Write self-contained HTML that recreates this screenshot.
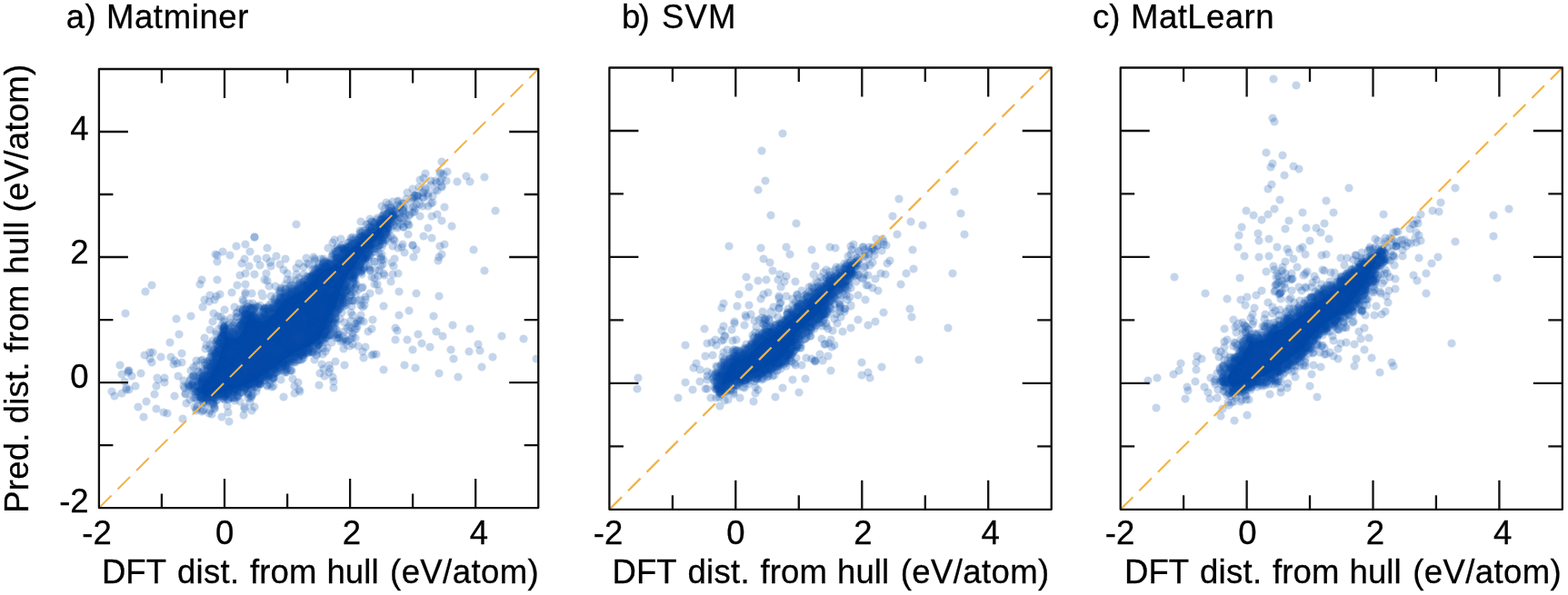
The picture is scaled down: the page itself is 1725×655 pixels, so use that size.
<!DOCTYPE html>
<html><head><meta charset="utf-8"><title>Predicted vs DFT distance from hull</title>
<style>
html,body{margin:0;padding:0;background:#fff;}
body{width:1725px;height:655px;overflow:hidden;}
svg{display:block;}
text{font-family:"Liberation Sans",sans-serif;font-size:36.5px;fill:#000;stroke:#000;stroke-width:.3px;}
.pt path{fill:none;stroke:#094aa8;stroke-opacity:.23;stroke-width:9.2;stroke-linecap:round;}
.so{fill:#094aa8;stroke:#fff;stroke-linejoin:round;}
.fr{fill:none;stroke-linejoin:round;stroke:#111;stroke-width:2.3;}
.tk{stroke:#111;stroke-width:2.3;fill:none;}
.dg{stroke:#f2b345;stroke-dasharray:19.3 9.8;fill:none;}
</style></head><body>
<svg width="1725" height="655" viewBox="0 0 1725 655">
<rect width="1725" height="655" fill="#fff"/>
<filter id="bl" filterUnits="userSpaceOnUse" x="0" y="0" width="1725" height="655"><feGaussianBlur stdDeviation="0.55"/></filter>
<clipPath id="c0"><rect x="108.9" y="76" width="483.35" height="483.1"/></clipPath>
<path class="so" stroke-width="20" d="M210 429L214 418L224 406L230 395L235 379L240 363L244 351L251 356L256 363L260 356L265 340L272 335L281 338L288 344L294 338L301 328L308 321L317 317L327 312L336 303L343 294L354 287L363 283L372 274L382 264L391 258L403 250L414 241L424 232L430 227L435 229L440 236L437 243L433 254L426 266L418 273L411 280L404 290L398 299L391 308L386 319L382 331L377 344L370 356L366 367L359 380L345 390L330 397L317 406L306 415L294 422L283 429L272 434L258 438L246 443L235 445L224 447L214 440Z"/>
<g clip-path="url(#c0)"><g class="pt" filter="url(#bl)">
<path d="M371 277h0M445 240h0M425 246h0M286 423h0M286 292h0M455 217h0M253 376h0M276 436h0M401 263h0M382 361h0M306 405h0M386 276h0M256 365h0M383 303h0M284 351h0M281 348h0M370 283h0M296 412h0M426 235h0M268 364h0M264 388h0M271 428h0M309 350h0M403 270h0M207 423h0M386 317h0M315 322h0M354 297h0M394 331h0M438 221h0M381 273h0M256 399h0M385 295h0M362 343h0M231 379h0M401 336h0M277 350h0M270 269h0M337 318h0M226 421h0M423 248h0M436 231h0M381 336h0M367 335h0M322 382h0M283 350h0M253 430h0M329 396h0M353 339h0M312 400h0M236 330h0M229 400h0M245 382h0M288 417h0M255 426h0M315 410h0M369 329h0M387 294h0M359 363h0M456 215h0M399 297h0M355 301h0M353 350h0M297 342h0M270 365h0M337 315h0M418 267h0M380 316h0M265 368h0M341 310h0M319 408h0M384 364h0M211 427h0M232 434h0M240 436h0M370 282h0M155 411h0M332 383h0M272 423h0M321 379h0M275 362h0M333 363h0M328 322h0M355 383h0M314 400h0M240 388h0M261 414h0M431 244h0M374 320h0M492 189h0M377 274h0M352 367h0M375 291h0M352 299h0M305 335h0M205 444h0M424 251h0M250 375h0M245 433h0M348 377h0M270 353h0M457 405h0M322 384h0M320 329h0M297 358h0M394 299h0M360 363h0M273 421h0M389 294h0M297 408h0M210 408h0M498 358h0M236 406h0M279 358h0M270 322h0M319 399h0M241 405h0M253 369h0M416 262h0M309 392h0M383 272h0M366 415h0M368 369h0M407 256h0M218 420h0M376 310h0M255 425h0M227 444h0M293 351h0M411 257h0M250 418h0M279 422h0M311 331h0M323 381h0M302 329h0M218 431h0M483 411h0M380 330h0M311 398h0M288 415h0M271 349h0M444 250h0M240 390h0M426 248h0M361 298h0M455 228h0M489 228h0M261 426h0M339 365h0M441 240h0M410 269h0M322 386h0M337 314h0M422 301h0M264 373h0M418 246h0M384 302h0M231 417h0M271 426h0M260 370h0M375 320h0M228 403h0M315 318h0M354 401h0M394 271h0M336 388h0M281 346h0M296 352h0M245 436h0M234 442h0M373 293h0M288 394h0M402 285h0M244 391h0M363 328h0M496 385h0M356 296h0M349 305h0M362 298h0M422 237h0M271 341h0M277 430h0M283 386h0M280 417h0M388 270h0M241 385h0M301 345h0M405 263h0M374 321h0"/>
<path d="M244 376h0M363 354h0M293 354h0M326 391h0M280 419h0M344 381h0M576 373h0M265 363h0M458 225h0M409 274h0M351 359h0M264 410h0M322 398h0M246 436h0M386 295h0M294 392h0M269 360h0M390 302h0M222 428h0M303 384h0M234 410h0M374 296h0M418 246h0M388 379h0M246 388h0M384 272h0M326 338h0M430 260h0M278 384h0M316 392h0M325 399h0M252 367h0M409 269h0M350 351h0M316 329h0M321 388h0M255 355h0M270 375h0M284 401h0M344 377h0M425 250h0M291 390h0M324 390h0M486 197h0M259 426h0M286 423h0M313 322h0M474 224h0M296 339h0M266 371h0M319 343h0M314 360h0M294 425h0M397 300h0M275 345h0M380 306h0M377 311h0M354 360h0M222 410h0M373 326h0M203 427h0M377 330h0M269 367h0M269 448h0M382 273h0M279 423h0M321 377h0M406 257h0M330 331h0M275 352h0M403 277h0M225 437h0M454 385h0M277 352h0M450 230h0M322 324h0M242 389h0M260 271h0M271 354h0M238 432h0M266 364h0M317 325h0M356 369h0M286 348h0M432 238h0M231 400h0M294 412h0M351 364h0M363 289h0M425 246h0M270 391h0M309 349h0M333 357h0M251 366h0M356 358h0M221 429h0M282 354h0M426 244h0M220 436h0M213 438h0M352 367h0M269 349h0M244 379h0M222 414h0M443 269h0M242 375h0M339 312h0M359 291h0M451 236h0M245 375h0M249 366h0M393 283h0M252 367h0M245 413h0M223 396h0M216 402h0M336 387h0M396 270h0M338 386h0M320 356h0M358 358h0M307 374h0M221 415h0M352 375h0M251 358h0M317 359h0M317 387h0M266 399h0M409 266h0M368 356h0M284 352h0M363 291h0M308 343h0M244 371h0M228 438h0M416 271h0M311 370h0M335 322h0M293 416h0M240 386h0M231 412h0M397 288h0M260 349h0M341 307h0M246 373h0M403 271h0M346 316h0M263 374h0M356 289h0M271 365h0M396 257h0M462 238h0M396 265h0M251 368h0M486 280h0M268 354h0M408 271h0M257 431h0M401 254h0M260 363h0M278 354h0M364 356h0M273 389h0M282 354h0M288 401h0M302 363h0M388 331h0M299 350h0M412 306h0M388 367h0M286 354h0M264 362h0M327 324h0M312 400h0M159 391h0M220 414h0M273 434h0M264 340h0M242 374h0M294 354h0M382 310h0M280 406h0M378 286h0M241 400h0M249 394h0M485 190h0M361 289h0M273 423h0M412 245h0"/>
<path d="M347 308h0M414 254h0M323 386h0M228 408h0M406 295h0M238 368h0M278 412h0M270 420h0M225 435h0M355 296h0M320 325h0M217 425h0M219 424h0M450 248h0M431 234h0M386 279h0M152 448h0M367 338h0M331 383h0M288 352h0M360 353h0M335 391h0M309 334h0M263 360h0M268 354h0M246 360h0M293 348h0M309 375h0M448 374h0M275 409h0M359 370h0M254 422h0M139 429h0M400 262h0M237 435h0M306 334h0M275 348h0M405 280h0M371 317h0M236 398h0M323 351h0M292 409h0M276 420h0M431 231h0M329 323h0M342 353h0M407 281h0M275 344h0M221 428h0M372 285h0M290 348h0M325 327h0M278 350h0M414 251h0M332 373h0M255 372h0M279 363h0M349 301h0M223 433h0M370 294h0M402 327h0M249 405h0M234 375h0M225 330h0M437 249h0M306 335h0M245 383h0M381 287h0M264 358h0M225 421h0M273 391h0M280 339h0M304 410h0M247 428h0M371 330h0M329 328h0M335 317h0M391 269h0M425 241h0M373 315h0M388 308h0M333 322h0M231 437h0M435 240h0M411 266h0M380 333h0M329 320h0M394 381h0M474 199h0M234 400h0M377 327h0M339 384h0M237 408h0M268 382h0M364 293h0M264 425h0M238 441h0M213 414h0M397 279h0M322 389h0M404 269h0M462 225h0M246 367h0M252 396h0M398 260h0M314 368h0M362 342h0M399 254h0M331 390h0M391 268h0M245 277h0M363 353h0M303 404h0M377 285h0M220 422h0M399 281h0M287 417h0M195 400h0M366 353h0M344 315h0M364 338h0M340 388h0M238 326h0M263 375h0M338 304h0M345 373h0M387 294h0M363 291h0M252 434h0M252 432h0M332 391h0M430 240h0M279 422h0M249 375h0M378 316h0M262 369h0M426 244h0M402 280h0M396 295h0M365 377h0M320 352h0M241 376h0M475 238h0M242 391h0M194 351h0M293 412h0M364 343h0M223 425h0M409 269h0M376 326h0M460 221h0M272 423h0M337 315h0M419 258h0M378 309h0M289 392h0M307 358h0M312 437h0M329 327h0M271 360h0M374 328h0M286 416h0M394 293h0M418 270h0M325 386h0M402 279h0M343 376h0M412 263h0M234 406h0M222 422h0M302 402h0M274 421h0M281 350h0M265 366h0M268 347h0M372 296h0M365 355h0M242 386h0M290 393h0M372 288h0M256 403h0M399 287h0M281 395h0M454 234h0M244 423h0M286 336h0M238 441h0M380 278h0M283 416h0"/>
<path d="M326 320h0M280 448h0M358 350h0M491 199h0M282 350h0M246 435h0M275 341h0M336 314h0M304 345h0M210 348h0M405 286h0M322 321h0M276 343h0M418 249h0M266 361h0M306 398h0M311 383h0M425 248h0M380 279h0M270 387h0M237 435h0M322 323h0M278 417h0M405 264h0M391 288h0M231 396h0M329 387h0M339 379h0M309 328h0M256 430h0M248 376h0M242 386h0M380 276h0M397 256h0M396 291h0M286 422h0M420 280h0M313 398h0M239 374h0M320 400h0M399 268h0M329 429h0M241 403h0M378 365h0M418 265h0M338 344h0M391 317h0M419 249h0M271 416h0M340 305h0M261 344h0M403 277h0M334 380h0M440 228h0M417 250h0M413 259h0M323 391h0M244 424h0M381 326h0M269 359h0M298 351h0M384 331h0M261 379h0M274 424h0M275 339h0M247 352h0M420 249h0M352 332h0M376 301h0M392 268h0M318 330h0M373 325h0M330 322h0M337 314h0M483 283h0M421 264h0M295 346h0M290 396h0M262 423h0M329 360h0M351 318h0M352 299h0M237 404h0M319 391h0M366 324h0M219 434h0M391 301h0M244 385h0M289 348h0M371 276h0M390 268h0M243 397h0M349 370h0M232 392h0M373 275h0M327 397h0M260 398h0M412 265h0M258 362h0M326 302h0M227 413h0M270 301h0M341 354h0M400 264h0M233 392h0M305 368h0M329 380h0M393 296h0M220 426h0M329 318h0M372 317h0M240 403h0M293 349h0M257 438h0M367 279h0M298 326h0M391 308h0M236 416h0M386 291h0M342 325h0M377 307h0M420 286h0M248 364h0M329 379h0M329 333h0M223 452h0M365 340h0M396 262h0M404 279h0M221 430h0M323 328h0M409 254h0M320 397h0M371 333h0M337 284h0M332 316h0M417 260h0M329 335h0M249 367h0M215 438h0M288 410h0M415 251h0M259 429h0M253 435h0M344 308h0M292 406h0M291 354h0M387 296h0M374 277h0M235 412h0M314 285h0M406 261h0M378 308h0M360 357h0M293 352h0M319 388h0M244 373h0M243 401h0M341 337h0M296 378h0M326 319h0M409 269h0M291 414h0M361 273h0M402 275h0M365 356h0M328 323h0M236 398h0M409 244h0M168 388h0M243 375h0M229 440h0M231 404h0M366 346h0M321 329h0M277 436h0M214 428h0M311 345h0M424 245h0M248 376h0M328 394h0M358 372h0M223 421h0M279 340h0M235 385h0M319 394h0M376 328h0M348 304h0M313 410h0"/>
<path d="M299 387h0M331 319h0M417 252h0M404 260h0M317 380h0M367 420h0M224 423h0M411 258h0M325 393h0M330 322h0M247 428h0M324 395h0M375 290h0M429 246h0M240 401h0M271 345h0M427 248h0M401 280h0M316 401h0M379 275h0M322 340h0M272 395h0M242 378h0M333 318h0M223 338h0M403 258h0M374 326h0M433 293h0M274 388h0M246 363h0M293 284h0M379 402h0M326 327h0M423 241h0M244 377h0M230 407h0M526 379h0M224 408h0M312 297h0M361 356h0M323 396h0M335 315h0M242 384h0M316 382h0M281 349h0M390 304h0M369 330h0M403 280h0M243 393h0M359 363h0M222 453h0M468 191h0M428 227h0M323 317h0M284 338h0M351 379h0M167 314h0M227 434h0M222 423h0M281 351h0M359 358h0M265 367h0M386 305h0M289 354h0M287 415h0M233 456h0M234 431h0M370 324h0M355 363h0M276 423h0M261 431h0M425 254h0M322 343h0M363 344h0M274 293h0M278 348h0M266 349h0M347 348h0M406 272h0M268 427h0M362 410h0M273 385h0M222 416h0M405 276h0M247 431h0M235 442h0M316 331h0M399 264h0M379 319h0M325 393h0M323 329h0M349 375h0M221 428h0M353 375h0M231 325h0M329 388h0M284 352h0M421 249h0M229 435h0M275 277h0M251 429h0M348 310h0M395 288h0M346 310h0M237 395h0M440 240h0M454 218h0M379 305h0M412 254h0M375 284h0M385 301h0M363 297h0M213 404h0M318 331h0M343 377h0M240 405h0M440 226h0M330 392h0M282 362h0M399 275h0M317 384h0M348 308h0M372 325h0M260 368h0M400 272h0M284 422h0M270 422h0M298 406h0M398 266h0M395 294h0M317 352h0M428 225h0M342 321h0M324 328h0M370 341h0M331 348h0M284 346h0M386 285h0M450 237h0M269 427h0M346 302h0M397 347h0M242 433h0M326 327h0M383 300h0M271 386h0M280 419h0M255 427h0M232 441h0M268 423h0M350 305h0M255 400h0M300 341h0M231 444h0M307 332h0M286 369h0M389 306h0M278 419h0M517 200h0M437 226h0M373 287h0M285 417h0M257 427h0M350 367h0M317 329h0M245 376h0M373 372h0M383 286h0M256 397h0M398 298h0M342 380h0M334 389h0M246 365h0M134 433h0M346 374h0M266 360h0M311 327h0M278 334h0M420 255h0M224 419h0M294 424h0M247 361h0M286 358h0M274 356h0M398 288h0M283 356h0M264 426h0M339 381h0M413 258h0"/>
<path d="M338 356h0M292 340h0M308 327h0M312 399h0M323 336h0M378 316h0M213 413h0M270 324h0M321 408h0M282 357h0M444 228h0M248 383h0M366 327h0M389 301h0M217 447h0M267 423h0M302 409h0M268 358h0M276 378h0M260 388h0M277 323h0M383 297h0M358 358h0M424 243h0M308 395h0M222 429h0M376 302h0M418 249h0M355 290h0M244 371h0M323 392h0M285 420h0M208 431h0M223 424h0M294 309h0M353 300h0M233 404h0M305 335h0M248 372h0M293 361h0M389 269h0M331 323h0M328 389h0M246 389h0M393 272h0M351 303h0M409 252h0M427 249h0M406 268h0M466 212h0M211 424h0M240 395h0M353 366h0M301 416h0M272 357h0M262 436h0M331 336h0M192 436h0M396 292h0M484 200h0M288 323h0M275 341h0M318 329h0M227 415h0M299 333h0M293 301h0M400 269h0M343 309h0M279 347h0M244 388h0M204 434h0M263 360h0M378 309h0M289 326h0M413 259h0M395 264h0M254 429h0M356 367h0M274 416h0M392 291h0M245 396h0M346 336h0M273 348h0M252 369h0M380 315h0M343 304h0M280 261h0M400 394h0M251 374h0M276 392h0M287 402h0M246 403h0M256 429h0M221 438h0M309 348h0M331 389h0M231 415h0M399 265h0M359 289h0M323 392h0M349 303h0M410 268h0M351 306h0M294 356h0M454 270h0M234 432h0M328 326h0M235 399h0M266 358h0M228 406h0M320 364h0M299 399h0M420 264h0M297 418h0M314 340h0M299 371h0M233 416h0M424 264h0M222 428h0M394 275h0M405 272h0M277 452h0M313 369h0M379 337h0M382 296h0M397 244h0M402 261h0M273 351h0M269 351h0M364 369h0M346 303h0M299 367h0M279 354h0M338 326h0M279 423h0M269 353h0M413 268h0M215 431h0M255 406h0M289 367h0M319 349h0M429 232h0M246 369h0M269 363h0M330 337h0M242 434h0M230 434h0M281 363h0M270 313h0M354 331h0M331 345h0M298 293h0M307 399h0M412 267h0M418 253h0M249 429h0M301 413h0M230 397h0M356 285h0M362 353h0M471 227h0M266 426h0M402 274h0M327 365h0M420 264h0M247 437h0M252 464h0M422 246h0M415 255h0M343 309h0M326 387h0M241 380h0M391 262h0M273 373h0M376 302h0M270 425h0M334 315h0M259 392h0M380 284h0M238 378h0M337 383h0M430 228h0M201 461h0M236 399h0M332 320h0M257 431h0M324 320h0M329 313h0M226 384h0"/>
<path d="M323 395h0M292 410h0M318 392h0M284 356h0M296 398h0M338 317h0M357 354h0M325 321h0M358 299h0M397 299h0M267 424h0M387 269h0M542 393h0M405 275h0M134 412h0M219 425h0M223 440h0M357 360h0M370 372h0M416 254h0M243 402h0M241 434h0M204 433h0M317 387h0M296 383h0M446 236h0M338 313h0M269 285h0M333 389h0M251 374h0M222 422h0M305 375h0M381 297h0M232 404h0M321 363h0M352 302h0M359 294h0M417 320h0M312 394h0M309 327h0M276 348h0M335 322h0M416 266h0M328 389h0M270 354h0M418 243h0M335 324h0M246 363h0M371 320h0M247 425h0M399 281h0M275 422h0M397 291h0M215 415h0M224 443h0M282 415h0M261 366h0M310 332h0M271 353h0M397 299h0M407 258h0M317 394h0M270 426h0M322 323h0M290 410h0M266 425h0M248 381h0M303 407h0M317 329h0M274 341h0M304 343h0M235 444h0M375 291h0M321 332h0M256 438h0M396 267h0M366 280h0M239 383h0M267 360h0M283 397h0M419 283h0M326 365h0M330 329h0M257 376h0M405 247h0M427 243h0M221 437h0M373 275h0M423 258h0M356 287h0M371 293h0M276 340h0M379 355h0M236 432h0M405 293h0M257 381h0M304 347h0M357 299h0M286 355h0M358 291h0M369 353h0M334 321h0M385 293h0M349 386h0M273 421h0M365 340h0M345 303h0M364 344h0M373 286h0M209 419h0M230 414h0M273 433h0M296 351h0M351 299h0M390 363h0M276 396h0M230 417h0M230 438h0M239 281h0M330 330h0M240 379h0M497 249h0M425 249h0M334 394h0M267 340h0M386 325h0M236 431h0M306 334h0M423 303h0M400 262h0M239 410h0M320 321h0M387 271h0M254 397h0M365 331h0M289 409h0M242 399h0M239 434h0M225 372h0M326 343h0M417 257h0M361 310h0M262 375h0M292 339h0M432 233h0M268 355h0M459 215h0M312 395h0M341 316h0M231 363h0M392 279h0M226 438h0M346 354h0M503 200h0M241 403h0M208 424h0M349 376h0M437 235h0M216 420h0M284 418h0M378 278h0M388 347h0M315 361h0M398 265h0M212 430h0M394 281h0M309 370h0M309 361h0M356 365h0M343 307h0M392 266h0M409 255h0M278 342h0M372 334h0M337 321h0M246 354h0M369 349h0M343 303h0M414 262h0M224 418h0M397 336h0M400 285h0M365 333h0M323 355h0M422 337h0M383 375h0M416 258h0M218 409h0M284 356h0"/>
<path d="M329 306h0M449 247h0M283 368h0M364 290h0M291 396h0M202 425h0M329 389h0M351 305h0M216 450h0M238 440h0M418 259h0M240 385h0M269 427h0M355 364h0M259 391h0M326 295h0M247 365h0M264 433h0M462 198h0M387 278h0M418 242h0M388 292h0M328 358h0M307 404h0M267 370h0M307 342h0M348 353h0M326 392h0M366 335h0M258 375h0M238 419h0M290 419h0M328 393h0M311 404h0M245 432h0M360 365h0M371 283h0M245 382h0M279 364h0M272 357h0M271 419h0M239 375h0M343 336h0M380 322h0M434 237h0M137 420h0M416 259h0M231 452h0M339 388h0M237 404h0M334 363h0M291 377h0M262 375h0M459 216h0M283 285h0M344 313h0M312 337h0M233 412h0M379 334h0M393 275h0M517 362h0M222 438h0M429 246h0M444 232h0M357 353h0M297 347h0M338 344h0M275 415h0M395 262h0M323 389h0M327 383h0M398 262h0M348 296h0M411 262h0M352 302h0M351 341h0M239 402h0M315 340h0M218 425h0M324 325h0M530 404h0M343 312h0M260 415h0M274 352h0M337 343h0M325 397h0M298 395h0M428 232h0M241 398h0M448 212h0M335 390h0M421 291h0M296 413h0M247 369h0M283 419h0M211 423h0M237 391h0M388 304h0M212 415h0M345 304h0M384 299h0M458 323h0M227 414h0M344 372h0M343 340h0M331 388h0M314 318h0M409 261h0M251 432h0M228 433h0M348 334h0M291 340h0M272 424h0M276 355h0M266 426h0M224 418h0M363 406h0M331 396h0M244 407h0M252 370h0M333 328h0M276 349h0M245 384h0M374 314h0M415 240h0M239 440h0M312 360h0M265 369h0M263 372h0M387 337h0M285 376h0M229 410h0M328 313h0M354 370h0M306 339h0M238 393h0M288 411h0M261 372h0M256 427h0M382 320h0M419 285h0M341 378h0M303 344h0M422 253h0M399 260h0M269 429h0M303 397h0M371 322h0M348 307h0M158 459h0M275 420h0M281 337h0M223 406h0M415 313h0M417 248h0M377 321h0M255 374h0M294 343h0M427 256h0M326 326h0M364 312h0M264 428h0M266 428h0M306 333h0M488 192h0M410 264h0M229 415h0M400 285h0M241 403h0M400 266h0M245 370h0M384 359h0M417 249h0M196 414h0M379 303h0M358 294h0M301 416h0M260 428h0M281 419h0M222 436h0M381 376h0M377 279h0M355 368h0M267 341h0M270 409h0M392 313h0M403 247h0M438 243h0M358 296h0"/>
<path d="M394 265h0M382 301h0M132 402h0M270 353h0M310 346h0M317 353h0M292 347h0M377 311h0M466 260h0M282 431h0M358 365h0M238 396h0M248 365h0M263 374h0M370 284h0M389 331h0M382 307h0M412 288h0M309 317h0M422 254h0M268 361h0M282 418h0M334 310h0M347 324h0M303 344h0M291 401h0M313 327h0M276 438h0M269 420h0M172 450h0M367 291h0M255 372h0M251 426h0M221 442h0M230 428h0M238 424h0M362 349h0M369 274h0M378 275h0M347 306h0M298 343h0M255 421h0M354 298h0M260 382h0M359 352h0M409 249h0M428 238h0M314 392h0M273 386h0M338 334h0M247 367h0M338 318h0M364 352h0M341 376h0M371 337h0M273 337h0M377 317h0M343 388h0M246 381h0M341 351h0M319 392h0M248 428h0M396 254h0M384 305h0M314 398h0M315 400h0M352 367h0M375 319h0M289 412h0M382 285h0M402 382h0M257 396h0M375 283h0M258 441h0M407 276h0M275 428h0M288 418h0M361 353h0M246 439h0M322 345h0M224 426h0M302 402h0M274 357h0M255 398h0M312 331h0M378 321h0M293 408h0M238 435h0M341 375h0M300 417h0M293 419h0M409 362h0M395 352h0M333 386h0M262 389h0M323 342h0M248 435h0M250 362h0M295 411h0M311 403h0M402 276h0M329 316h0M376 325h0M359 292h0M360 327h0M285 421h0M285 387h0M244 393h0M377 274h0M353 364h0M300 408h0M425 256h0M483 326h0M394 286h0M287 414h0M376 275h0M337 379h0M277 347h0M301 389h0M425 237h0M368 335h0M209 425h0M220 429h0M276 383h0M339 375h0M281 368h0M223 414h0M422 286h0M434 265h0M237 421h0M373 330h0M226 422h0M275 384h0M418 261h0M297 404h0M238 403h0M408 273h0M331 387h0M264 424h0M324 425h0M370 285h0M355 291h0M243 349h0M257 358h0M388 298h0M246 431h0M296 408h0M456 216h0M432 237h0M403 283h0M357 377h0M411 390h0M400 257h0M290 343h0M252 368h0M324 393h0M258 338h0M381 277h0M290 399h0M239 390h0M242 398h0M357 308h0M378 282h0M254 363h0M314 336h0M310 331h0M396 266h0M339 363h0M325 327h0M344 369h0M402 259h0M333 382h0M326 328h0M317 397h0M126 436h0M407 256h0M269 383h0M392 362h0M317 390h0M384 319h0M369 350h0M382 316h0M384 293h0M552 370h0M306 373h0M362 291h0M246 428h0M318 329h0M297 369h0"/>
<path d="M420 262h0M235 401h0M235 430h0M351 300h0M328 421h0M288 410h0M313 333h0M328 319h0M350 366h0M376 344h0M253 381h0M236 450h0M468 209h0M383 319h0M361 345h0M403 284h0M275 373h0M233 426h0M316 308h0M329 349h0M270 423h0M181 416h0M222 420h0M348 304h0M353 301h0M397 266h0M267 330h0M320 387h0M423 247h0M458 217h0M358 366h0M384 272h0M251 429h0M367 336h0M419 293h0M376 323h0M272 354h0M345 318h0M368 264h0M243 434h0M344 297h0M270 346h0M226 438h0M376 273h0M359 324h0M309 408h0M312 333h0M405 264h0M367 427h0M349 294h0M354 363h0M242 324h0M336 309h0M347 309h0M416 304h0M303 410h0M347 342h0M264 358h0M447 219h0M283 427h0M299 426h0M261 418h0M245 367h0M359 347h0M288 413h0M427 251h0M350 301h0M399 316h0M457 215h0M271 356h0M441 247h0M392 274h0M254 375h0M300 400h0M271 420h0M225 399h0M385 305h0M361 352h0M285 350h0M414 257h0M353 298h0M398 286h0M426 250h0M329 388h0M386 321h0M364 325h0M422 260h0M259 429h0M219 410h0M341 358h0M386 294h0M392 315h0M394 268h0M308 407h0M394 319h0M312 394h0M358 368h0M251 454h0M310 339h0M308 341h0M407 298h0M346 299h0M351 303h0M266 390h0M317 398h0M309 337h0M236 423h0M170 434h0M227 419h0M251 432h0M315 409h0M410 261h0M459 216h0M272 356h0M484 191h0M345 355h0M270 340h0M230 434h0M363 369h0M306 400h0M278 413h0M355 360h0M419 260h0M380 289h0M321 323h0M373 325h0M275 443h0M330 357h0M350 299h0M308 291h0M294 415h0M333 387h0M314 365h0M388 268h0M267 432h0M358 359h0M292 350h0M248 379h0M363 346h0M255 374h0M479 209h0M296 355h0M407 251h0M325 388h0M420 227h0M235 433h0M418 260h0M323 322h0M359 294h0M307 400h0M345 283h0M303 408h0M292 409h0M226 438h0M312 362h0M224 443h0M342 313h0M237 401h0M277 349h0M406 254h0M238 391h0M281 418h0M302 375h0M330 311h0M351 379h0M254 422h0M474 204h0M280 351h0M251 414h0M232 408h0M224 428h0M258 375h0M393 283h0M386 277h0M246 361h0M407 267h0M314 364h0M366 313h0M334 318h0M280 368h0M246 378h0M356 365h0M407 250h0M335 341h0M377 284h0M372 284h0M353 311h0M286 412h0M358 298h0"/>
<path d="M233 426h0M279 411h0M321 326h0M362 351h0M218 431h0M328 386h0M365 339h0M427 235h0M223 428h0M349 342h0M237 389h0M368 339h0M251 439h0M363 327h0M417 256h0M369 350h0M420 272h0M240 383h0M432 222h0M381 319h0M309 348h0M320 338h0M429 246h0M305 369h0M392 294h0M370 291h0M233 408h0M283 400h0M232 438h0M290 376h0M421 263h0M389 298h0M373 329h0M340 353h0M266 421h0M224 433h0M394 297h0M428 249h0M332 327h0M249 374h0M352 300h0M272 420h0M229 420h0M292 352h0M145 414h0M358 325h0M296 413h0M234 438h0M433 248h0M411 266h0M352 367h0M271 362h0M482 287h0M333 380h0M484 271h0M251 410h0M302 342h0M323 325h0M422 243h0M371 325h0M425 248h0M233 434h0M375 314h0M370 331h0M422 268h0M224 438h0M357 354h0M435 361h0M320 308h0M272 423h0M422 240h0M257 371h0M355 362h0M429 250h0M461 206h0M306 361h0M303 348h0M425 251h0M291 308h0M174 418h0M417 271h0M437 222h0M412 269h0M365 339h0M442 272h0M346 304h0M422 239h0M259 375h0M317 400h0M264 365h0M348 391h0M368 290h0M281 415h0M314 313h0M437 251h0M173 416h0M360 336h0M309 402h0M430 310h0M415 253h0M247 434h0M359 358h0M274 388h0M384 303h0M371 322h0M402 330h0M256 365h0M352 376h0M351 371h0M303 411h0M321 318h0M306 347h0M314 403h0M296 315h0M344 311h0M432 239h0M348 325h0M324 433h0M374 336h0M307 407h0M410 251h0M250 385h0M429 250h0M309 329h0M360 323h0M405 262h0M259 391h0M222 439h0M246 375h0M261 429h0M378 276h0M356 369h0M239 308h0M386 262h0M239 431h0M324 361h0M303 377h0M383 276h0M390 276h0M342 346h0M265 358h0M275 410h0M339 317h0M343 361h0M341 369h0M388 300h0M294 345h0M218 420h0M262 362h0M513 194h0M247 369h0M277 426h0M363 363h0M400 284h0M383 276h0M286 354h0M295 349h0M253 368h0M403 274h0M261 314h0M407 297h0M249 431h0M344 339h0M422 407h0M590 395h0M306 404h0M341 305h0M350 355h0M304 326h0M408 253h0M351 424h0M431 244h0M395 271h0M388 294h0M354 370h0M386 314h0M361 357h0M340 369h0M307 407h0M298 351h0M433 233h0M277 426h0M340 383h0M221 438h0M421 249h0M257 430h0M290 343h0M317 367h0M229 417h0"/>
<path d="M248 414h0M398 267h0M388 371h0M389 312h0M385 270h0M329 383h0M257 394h0M545 232h0M387 264h0M408 253h0M405 257h0M365 313h0M307 338h0M391 282h0M375 282h0M471 251h0M225 417h0M405 269h0M253 366h0M225 421h0M271 346h0M294 363h0M352 371h0M380 303h0M347 373h0M361 290h0M421 253h0M393 278h0M387 299h0M426 252h0M336 314h0M325 382h0M481 210h0M260 429h0M328 320h0M216 433h0M392 264h0M339 344h0M318 343h0M332 339h0M249 412h0M351 374h0M224 431h0M405 280h0M310 327h0M325 341h0M290 412h0M265 423h0M395 280h0M291 339h0M415 274h0M297 409h0M348 305h0M236 449h0M353 299h0M397 282h0M424 240h0M224 437h0M226 429h0M308 322h0M282 416h0M256 374h0M299 339h0M285 371h0M306 341h0M390 272h0M301 361h0M246 371h0M257 387h0M233 412h0M370 337h0M254 427h0M374 332h0M252 403h0M402 259h0M283 353h0M245 374h0M285 354h0M362 369h0M252 374h0M339 386h0M336 360h0M316 391h0M329 290h0M255 322h0M263 424h0M348 309h0M407 241h0M352 310h0M350 302h0M378 281h0M284 356h0M382 380h0M402 267h0M260 423h0M247 360h0M235 398h0M319 370h0M271 426h0M370 343h0M251 418h0M254 422h0M370 326h0M231 417h0M429 243h0M309 334h0M226 413h0M278 348h0M352 367h0M263 397h0M217 432h0M305 359h0M444 224h0M353 352h0M476 223h0M222 421h0M418 246h0M265 432h0M394 293h0M283 355h0M296 374h0M337 382h0M371 313h0M200 389h0M361 350h0M375 281h0M348 378h0M312 398h0M301 404h0M361 360h0M407 273h0M419 264h0M385 381h0M308 333h0M454 208h0M325 389h0M346 373h0M253 437h0M386 278h0M425 246h0M345 347h0M400 282h0M233 436h0M138 345h0M250 402h0M418 258h0M390 303h0M324 324h0M282 379h0M382 304h0M333 389h0M350 295h0M382 276h0M369 398h0M355 341h0M269 427h0M345 376h0M247 341h0M437 364h0M364 293h0M246 388h0M276 355h0M328 352h0M212 424h0M284 376h0M369 339h0M296 410h0M309 405h0M246 390h0M344 310h0M375 263h0M314 396h0M235 416h0M302 402h0M266 428h0M324 354h0M223 430h0M264 442h0M320 327h0M246 369h0M374 339h0M332 396h0M388 294h0M378 274h0M234 392h0M338 359h0M402 256h0M315 323h0M217 440h0"/>
<path d="M362 351h0M289 355h0M332 323h0M352 371h0M274 347h0M249 433h0M249 424h0M304 371h0M281 405h0M277 346h0M245 368h0M303 333h0M241 391h0M464 378h0M404 274h0M425 243h0M354 364h0M244 399h0M271 363h0M242 396h0M383 302h0M448 244h0M305 360h0M379 297h0M380 313h0M346 333h0M216 397h0M232 433h0M350 296h0M257 434h0M390 294h0M378 280h0M288 350h0M439 347h0M277 345h0M282 360h0M418 245h0M343 311h0M431 238h0M423 240h0M374 291h0M242 401h0M356 375h0M409 244h0M369 277h0M335 387h0M282 403h0M341 363h0M251 358h0M332 325h0M321 378h0M436 230h0M356 362h0M389 271h0M184 455h0M438 301h0M289 356h0M345 336h0M412 313h0M313 325h0M351 336h0M336 387h0M243 383h0M380 282h0M268 378h0M402 287h0M340 388h0M283 412h0M363 330h0M297 413h0M274 362h0M406 267h0M300 412h0M375 272h0M241 377h0M354 295h0M432 236h0M486 178h0M330 390h0M340 379h0M431 238h0M301 346h0M149 425h0M365 335h0M283 375h0M419 261h0M197 368h0M355 335h0M389 265h0M303 348h0M309 402h0M304 337h0M308 340h0M237 396h0M373 288h0M258 428h0M342 307h0M406 278h0M385 278h0M273 424h0M345 384h0M264 303h0M256 433h0M400 354h0M314 400h0M364 349h0M278 434h0M234 434h0M282 357h0M309 353h0M373 287h0M371 368h0M381 280h0M241 396h0M236 438h0M273 359h0M396 262h0M299 344h0M388 275h0M426 245h0M255 435h0M381 320h0M359 360h0M466 218h0M220 313h0M339 384h0M301 425h0M299 360h0M220 417h0M313 362h0M320 367h0M282 353h0M349 376h0M377 334h0M289 352h0M399 291h0M341 349h0M317 353h0M259 371h0M400 295h0M273 425h0M276 350h0M238 388h0M384 303h0M254 438h0M376 289h0M360 346h0M395 290h0M224 433h0M371 292h0M363 304h0M289 405h0M319 331h0M236 412h0M334 294h0M269 346h0M330 330h0M420 238h0M357 300h0M278 344h0M343 319h0M238 365h0M359 348h0M390 272h0M245 380h0M222 436h0M255 370h0M286 353h0M369 362h0M276 339h0M247 370h0M309 397h0M386 269h0M382 299h0M361 362h0M243 372h0M401 278h0M279 410h0M181 421h0M393 264h0M384 274h0M499 395h0M389 303h0M241 362h0M378 327h0M396 260h0M392 267h0M267 353h0M220 429h0"/>
<path d="M271 428h0M423 244h0M346 324h0M192 397h0M407 270h0M246 393h0M294 389h0M320 373h0M343 314h0M244 459h0M360 383h0M264 349h0M239 379h0M414 267h0M380 327h0M230 411h0M383 285h0M371 369h0M258 428h0M280 421h0M286 347h0M232 404h0M357 414h0M445 402h0M352 367h0M239 412h0M343 305h0M307 337h0M246 370h0M363 361h0M398 260h0M361 297h0M254 411h0M236 400h0M341 385h0M380 311h0M290 344h0M365 282h0M356 406h0M265 370h0M272 431h0M357 362h0M281 379h0M435 236h0M261 431h0M338 290h0M293 392h0M351 290h0M311 333h0M377 332h0M371 284h0M412 263h0M417 298h0M266 354h0M274 370h0M333 311h0M351 299h0M261 427h0M362 402h0M257 367h0M299 351h0M369 329h0M326 389h0M315 341h0M390 317h0M263 372h0M412 277h0M355 368h0M265 368h0M259 402h0M265 375h0M357 368h0M334 311h0M318 381h0M238 406h0M369 287h0M224 414h0M281 419h0M401 294h0M339 314h0M381 316h0M408 264h0M388 322h0M238 376h0M315 350h0M200 399h0M416 261h0M398 262h0M296 415h0M253 385h0M248 382h0M244 358h0M353 329h0M303 390h0M293 385h0M385 320h0M356 310h0M440 235h0M376 289h0M280 361h0M370 290h0M351 384h0M294 406h0M460 368h0M356 348h0M381 309h0M412 245h0M425 258h0M256 427h0M397 330h0M479 199h0M486 243h0M395 290h0M240 394h0M324 348h0M388 276h0M402 271h0M314 403h0M374 351h0M449 258h0M331 334h0M366 331h0M245 394h0M391 372h0M368 352h0M238 422h0M397 353h0M237 400h0M347 357h0M300 339h0M284 351h0M370 293h0M390 294h0M298 288h0M393 359h0M341 379h0M455 283h0M355 299h0M384 277h0M297 289h0M352 306h0M340 318h0M389 307h0M221 397h0M244 393h0M278 347h0M293 351h0M282 417h0M486 206h0M244 431h0M252 379h0M304 377h0M340 385h0M289 377h0M400 282h0M337 332h0M359 359h0M323 387h0M269 348h0M290 363h0M361 295h0M241 386h0M279 420h0M358 336h0M381 272h0M255 361h0M320 373h0M244 360h0M334 365h0M348 324h0M224 414h0M292 373h0M386 361h0M261 349h0M246 438h0M369 339h0M398 277h0M261 373h0M280 426h0M250 412h0M247 361h0M354 339h0M262 373h0M433 263h0M423 248h0M393 267h0M249 419h0M398 279h0M284 338h0"/>
<path d="M261 370h0M326 247h0M165 388h0M329 325h0M233 440h0M247 375h0M243 369h0M281 354h0M381 306h0M259 375h0M244 372h0M376 327h0M384 309h0M301 405h0M471 216h0M346 304h0M406 256h0M349 377h0M272 338h0M320 336h0M375 325h0M313 374h0M422 262h0M435 374h0M265 385h0M245 368h0M415 258h0M284 422h0M265 358h0M415 242h0M235 386h0M333 391h0M249 366h0M427 262h0M302 331h0M413 251h0M296 414h0M318 323h0M424 229h0M272 359h0M354 298h0M401 285h0M236 388h0M228 438h0M298 405h0M348 340h0M249 400h0M263 410h0M355 325h0M250 372h0M281 364h0M228 440h0M311 401h0M339 306h0M351 307h0M251 426h0M315 333h0M423 232h0M370 355h0M337 341h0M274 413h0M387 305h0M301 408h0M372 341h0M383 274h0M239 436h0M323 329h0M307 409h0M284 408h0M362 345h0M403 262h0M362 369h0M294 407h0M372 341h0M266 427h0M383 277h0M271 354h0M402 274h0M387 291h0M285 421h0M377 375h0M423 249h0M319 386h0M338 340h0M226 439h0M207 425h0M313 407h0M419 250h0M325 392h0M233 418h0M353 325h0M340 305h0M325 326h0M358 321h0M368 334h0M232 441h0M354 294h0M401 282h0M325 357h0M259 374h0M344 368h0M282 420h0M298 352h0M270 421h0M419 261h0M336 311h0M230 332h0M386 331h0M268 398h0M417 259h0M222 308h0M263 355h0M346 364h0M325 336h0M344 314h0M473 382h0M244 390h0M305 409h0M408 269h0M272 345h0M377 336h0M392 294h0M336 310h0M349 380h0M364 286h0M240 348h0M241 415h0M230 455h0M389 292h0M444 250h0M377 313h0M396 292h0M386 276h0M247 371h0M291 414h0M367 364h0M442 224h0M247 364h0M261 414h0M348 355h0M352 369h0M333 318h0M399 387h0M238 406h0M344 340h0M481 236h0M271 347h0M245 388h0M398 302h0M415 249h0M292 348h0M245 414h0M358 293h0M390 288h0M429 235h0M420 259h0M317 369h0M314 326h0M277 356h0M337 366h0M351 297h0M384 267h0M384 272h0M249 429h0M393 354h0M365 365h0M272 359h0M202 419h0M295 351h0M334 311h0M303 356h0M380 311h0M312 352h0M394 296h0M320 394h0M233 428h0M362 351h0M391 288h0M353 352h0M296 372h0M388 305h0M375 328h0M229 421h0M383 273h0M373 338h0M283 354h0M367 293h0M255 433h0M242 428h0"/>
<path d="M305 382h0M298 349h0M471 213h0M521 275h0M340 317h0M271 354h0M274 334h0M382 274h0M312 398h0M359 372h0M364 294h0M261 414h0M223 427h0M286 419h0M335 323h0M268 457h0M263 411h0M371 336h0M294 382h0M247 359h0M318 392h0M374 315h0M210 416h0M222 419h0M443 231h0M347 297h0M280 261h0M416 263h0M266 424h0M307 347h0M307 388h0M533 298h0M376 286h0M387 297h0M358 293h0M319 392h0M381 312h0M402 262h0M410 263h0M376 270h0M273 373h0M234 399h0M413 249h0M315 334h0M415 259h0M346 300h0M370 344h0M243 378h0M250 399h0M250 429h0M371 284h0M396 280h0M259 415h0M443 236h0M317 326h0M167 399h0M307 337h0M417 270h0M393 271h0M349 372h0M142 429h0M355 390h0M191 401h0M161 442h0M291 346h0M362 327h0M237 406h0M406 250h0M360 356h0M379 278h0M400 268h0M315 396h0M221 430h0M297 408h0M330 431h0M377 307h0M360 371h0M353 303h0M255 374h0M229 414h0M347 325h0M254 366h0M290 342h0M344 336h0M345 388h0M351 356h0M224 451h0M370 337h0M242 377h0M290 396h0M336 359h0M381 312h0M248 381h0M239 391h0M378 313h0M295 409h0M225 419h0M267 387h0M269 371h0M239 397h0M433 248h0M242 397h0M262 393h0M328 326h0M238 415h0M235 412h0M362 315h0M269 350h0M319 316h0M376 322h0M439 321h0M325 353h0M368 291h0M367 361h0M426 265h0M315 407h0M328 323h0M355 290h0M252 368h0M351 304h0M257 366h0M331 337h0M277 421h0M419 242h0M331 314h0M261 437h0M321 330h0M375 376h0M298 410h0M399 266h0M340 291h0M275 368h0M267 344h0M238 393h0M307 336h0M225 436h0M342 378h0M285 385h0M339 370h0M293 354h0M219 437h0M250 447h0M379 327h0M250 370h0M404 270h0M362 358h0M424 255h0M533 195h0M384 328h0M375 287h0M353 285h0M401 260h0M380 284h0M283 354h0M160 321h0M382 299h0M250 434h0M356 329h0M214 448h0M300 407h0M368 344h0M350 379h0M223 425h0M385 273h0M307 356h0M297 340h0M432 269h0M271 335h0M322 321h0M281 339h0M443 243h0M348 382h0M302 405h0M367 338h0M386 271h0M333 315h0M373 368h0M363 308h0M233 389h0M331 318h0M432 271h0M335 333h0M326 309h0M287 358h0M284 389h0M386 325h0M423 252h0M357 297h0M274 384h0"/>
<path d="M425 244h0M426 252h0M380 291h0M385 305h0M504 415h0M337 360h0M266 392h0M358 387h0M280 420h0M303 371h0M315 396h0M273 379h0M270 359h0M356 368h0M226 412h0M291 349h0M386 353h0M305 402h0M421 268h0M226 422h0M398 275h0M213 421h0M379 323h0M312 346h0M397 297h0M466 196h0M264 365h0M412 288h0M187 377h0M372 290h0M235 384h0M401 273h0M290 358h0M248 368h0M372 338h0M286 363h0M363 352h0M399 338h0M346 285h0M273 418h0M320 408h0M377 370h0M400 267h0M382 281h0M296 349h0M359 316h0M309 418h0M261 375h0M379 278h0M347 327h0M304 347h0M245 395h0M382 278h0M404 274h0M307 338h0M253 429h0M408 265h0M378 384h0M262 426h0M432 238h0M370 289h0M423 246h0M312 400h0M312 353h0M282 373h0M315 382h0M362 291h0M295 341h0M356 294h0M232 436h0M334 302h0M254 427h0M303 339h0M390 293h0M273 385h0M279 415h0M420 269h0M301 406h0M238 389h0M229 419h0M349 375h0M355 360h0M406 262h0M309 366h0M264 369h0M366 267h0M229 437h0M407 281h0M342 314h0M343 307h0M234 424h0M265 358h0M388 292h0M369 345h0M247 383h0M334 331h0M299 404h0M302 417h0M228 402h0M276 342h0M267 421h0M352 369h0M375 322h0M374 322h0M292 412h0M308 325h0M279 401h0M378 373h0M172 425h0M247 433h0M320 393h0M339 315h0M264 422h0M287 373h0M411 274h0M261 435h0M363 351h0M263 374h0M309 336h0M443 232h0M286 411h0M378 317h0M370 363h0M278 364h0M277 420h0M266 359h0M228 398h0M360 334h0M333 384h0M353 368h0M222 418h0M356 357h0M398 261h0M378 309h0M417 255h0M377 279h0M307 320h0M367 347h0M234 411h0M422 236h0M289 352h0M244 379h0M234 404h0M287 351h0M238 399h0M386 296h0M272 422h0M344 374h0M398 317h0M420 249h0M287 351h0M231 384h0M383 295h0M418 249h0M390 356h0M337 311h0M373 317h0M220 433h0M223 434h0M295 367h0M248 369h0M234 404h0M399 279h0M276 365h0M392 298h0M360 351h0M419 252h0M412 263h0M235 345h0M268 358h0M309 339h0M351 308h0M355 364h0M367 342h0M367 339h0M235 427h0M408 259h0M355 326h0M376 289h0M258 424h0M264 425h0M465 217h0M376 326h0M304 358h0M487 370h0M358 296h0M344 342h0M295 338h0M480 201h0"/>
<path d="M273 438h0M372 276h0M359 288h0M349 380h0M346 295h0M257 419h0M340 377h0M401 259h0M291 351h0M319 329h0M409 305h0M271 380h0M371 332h0M322 314h0M320 390h0M358 355h0M256 432h0M239 434h0M361 334h0M400 268h0M325 319h0M346 287h0M357 356h0M372 342h0M389 291h0M286 423h0M346 396h0M370 279h0M300 401h0M209 440h0M217 430h0M302 348h0M348 382h0M350 303h0M233 410h0M224 417h0M407 271h0M237 280h0M225 416h0M365 346h0M318 320h0M372 372h0M244 371h0M418 259h0M431 289h0M324 332h0M239 422h0M267 342h0M345 334h0M294 341h0M254 424h0M278 399h0M237 407h0M259 425h0M380 373h0M217 431h0M310 397h0M224 440h0M321 324h0M318 361h0M257 367h0M259 438h0M165 395h0M234 396h0M434 244h0M340 382h0M393 285h0M344 380h0M233 443h0M425 223h0M239 288h0M236 401h0M385 276h0M245 387h0M377 281h0M349 390h0M361 355h0M314 382h0M414 390h0M426 251h0M249 434h0M399 284h0M223 415h0M357 299h0M352 298h0M392 285h0M337 320h0M263 369h0M265 363h0M516 387h0M329 392h0M413 256h0M413 297h0M259 368h0M263 386h0M247 377h0M279 420h0M233 387h0M284 415h0M458 275h0M375 331h0M285 391h0M475 262h0M363 297h0M416 255h0M311 334h0M393 269h0M244 371h0M360 292h0M528 386h0M309 320h0M391 324h0M375 320h0M329 314h0M285 364h0M338 371h0M357 359h0M376 313h0M348 373h0M368 294h0M317 325h0M432 241h0M370 335h0M250 407h0M376 329h0M422 254h0M369 334h0M343 383h0M307 403h0M260 394h0M398 276h0M256 375h0M457 230h0M296 336h0M142 408h0M289 417h0M274 370h0M267 356h0M251 440h0M410 262h0M323 351h0M343 335h0M343 375h0M390 305h0M362 312h0M252 376h0M367 329h0M253 403h0M312 327h0M228 417h0M290 417h0M379 314h0M403 271h0M285 357h0M327 324h0M306 407h0M344 350h0M234 431h0M236 447h0M386 317h0M314 331h0M270 350h0M372 322h0M123 431h0M334 313h0M238 405h0M336 321h0M226 402h0M382 275h0M324 322h0M267 354h0M299 340h0M307 335h0M348 372h0M358 351h0M406 255h0M434 285h0M430 252h0M370 310h0M253 425h0M433 238h0M271 362h0M309 399h0M302 334h0M323 323h0M371 288h0M358 325h0M404 261h0"/>
<path d="M321 396h0M404 263h0M316 383h0M253 281h0M390 296h0M362 314h0M248 430h0M267 363h0M369 280h0M229 441h0M330 360h0M406 269h0M230 415h0M371 284h0M385 302h0M417 279h0M260 345h0M296 374h0M375 322h0M352 372h0M314 402h0M375 319h0M280 355h0M322 317h0M290 340h0M393 283h0M252 418h0M324 319h0M438 273h0M305 400h0M236 391h0M268 425h0M419 250h0M222 422h0M300 340h0M370 286h0M218 414h0M344 308h0M262 426h0M409 278h0M423 256h0M243 407h0M255 359h0M371 272h0M298 377h0M351 374h0M370 314h0M275 350h0M427 234h0M300 416h0M352 348h0M300 375h0M486 205h0M330 326h0M434 240h0M410 277h0M383 267h0M343 311h0M236 407h0M465 227h0M465 212h0M356 374h0M303 315h0M247 362h0M355 369h0M289 357h0M361 292h0M238 397h0M314 377h0M257 425h0M287 356h0M348 370h0M368 331h0M392 356h0M276 405h0M248 430h0M273 399h0M409 391h0M313 400h0M358 294h0M327 352h0M339 362h0M334 322h0M236 423h0M216 452h0M346 374h0M288 413h0M372 318h0M244 396h0M383 271h0M428 237h0M301 400h0M410 352h0M272 346h0M362 347h0M310 334h0M350 319h0M220 426h0M387 274h0M360 363h0M346 362h0M417 248h0M362 362h0M283 352h0M412 277h0M262 422h0M296 347h0M319 325h0M371 294h0M405 365h0M141 408h0M339 315h0M359 349h0M323 387h0M304 282h0M431 230h0M271 423h0M293 396h0M317 326h0M314 332h0M219 425h0M231 417h0M257 383h0M372 293h0M311 368h0M254 350h0M420 247h0M308 318h0M325 328h0M269 430h0M314 398h0M281 418h0M468 207h0M421 241h0M240 379h0M240 383h0M345 303h0M399 282h0M268 362h0M392 288h0M294 273h0M241 395h0M407 323h0M230 417h0M320 314h0M374 340h0M269 354h0M330 317h0M327 330h0M432 302h0M213 425h0M249 387h0M332 388h0M367 355h0M256 374h0M445 278h0M378 322h0M275 382h0M279 350h0M338 321h0M358 322h0M188 393h0M428 229h0M244 434h0M452 222h0M373 327h0M347 346h0M237 392h0M318 390h0M241 398h0M308 341h0M313 370h0M180 454h0M370 331h0M221 428h0M271 397h0M235 445h0M301 405h0M352 411h0M308 375h0M281 375h0M245 430h0M350 333h0M360 290h0M251 430h0M243 373h0M237 406h0M248 436h0"/>
<path d="M477 348h0M413 274h0M232 410h0M368 343h0M279 426h0M141 410h0M335 381h0M363 345h0M359 311h0M335 318h0M356 328h0M267 378h0M268 332h0M336 380h0M413 249h0M295 350h0M388 261h0M263 364h0M255 375h0M309 380h0M281 369h0M386 309h0M322 417h0M250 385h0M296 402h0M247 385h0M282 412h0M420 241h0M215 433h0M389 310h0M263 369h0M318 329h0M266 358h0M371 289h0M241 388h0M456 233h0M263 367h0M326 351h0M239 437h0M232 406h0M282 423h0M328 323h0M224 429h0M412 247h0M240 433h0M301 337h0M476 216h0M218 422h0M374 325h0M232 407h0M340 314h0M359 294h0M357 300h0M420 256h0M421 265h0M278 339h0M274 352h0M229 404h0M415 248h0M337 341h0M388 307h0M415 253h0M390 274h0M429 242h0M302 345h0M215 434h0M323 399h0M327 318h0M227 380h0M243 396h0M259 355h0M345 304h0M314 362h0M274 351h0M352 310h0M383 300h0M367 311h0M247 440h0M360 360h0M314 386h0M297 423h0M279 345h0M420 244h0M225 423h0M342 315h0M385 275h0M454 270h0M343 387h0M335 307h0M270 346h0M295 404h0M364 294h0M397 281h0M300 396h0M253 411h0M385 274h0M417 261h0M221 430h0M249 373h0M264 362h0M409 270h0M357 289h0M232 393h0M379 275h0M480 365h0M335 389h0M238 409h0M405 283h0M264 360h0M327 338h0M366 346h0M422 253h0M233 432h0M360 358h0M366 347h0M401 275h0M425 257h0M384 278h0M269 450h0M295 362h0M420 252h0M416 251h0M293 355h0M317 396h0M359 352h0M266 421h0M281 345h0M316 321h0M139 427h0M246 369h0M294 362h0M305 402h0M372 338h0M316 301h0M330 321h0M262 428h0M284 413h0M315 374h0M341 384h0M340 311h0M405 269h0M300 347h0M279 340h0M370 335h0M234 354h0M374 327h0M279 347h0M354 298h0M386 344h0M258 424h0M292 347h0M386 373h0M373 323h0M339 310h0M405 270h0M311 391h0M177 393h0M413 262h0M333 320h0M374 332h0M254 395h0M352 310h0M295 392h0M259 429h0M363 341h0M266 405h0M328 355h0M266 369h0M365 295h0M280 302h0M406 261h0M266 290h0M345 301h0M236 406h0M246 433h0M328 323h0M316 406h0M402 278h0M355 372h0M450 342h0M278 350h0M368 346h0M287 418h0M327 322h0M374 320h0M367 287h0M489 269h0M248 406h0"/>
</g></g>
<path class="dg" stroke-width="2" d="M108.9 559.1L592.25 76"/>
<path class="tk" d="M177.9 559.1v-15.5M177.9 76.0v15.5M108.9 490.1h15.5M592.2 490.1h-15.5M247.0 559.1v-32M247.0 76.0v32M108.9 421.1h32M592.2 421.1h-32M316.1 559.1v-15.5M316.1 76.0v15.5M108.9 352.1h15.5M592.2 352.1h-15.5M385.1 559.1v-32M385.1 76.0v32M108.9 283.0h32M592.2 283.0h-32M454.1 559.1v-15.5M454.1 76.0v15.5M108.9 214.0h15.5M592.2 214.0h-15.5M523.2 559.1v-32M523.2 76.0v32M108.9 145.0h32M592.2 145.0h-32"/>
<rect class="fr" x="108.9" y="76" width="483.35" height="483.1"/>
<clipPath id="c1"><rect x="670.4" y="74.5" width="486.3" height="486.3"/></clipPath>
<path class="so" stroke-width="20" d="M790 435L783 424L786 412L792 401L797 392L806 387L815 385L822 378L831 369L841 362L850 356L860 347L869 339L878 332L887 324L897 316L906 309L915 302L924 294L933 288L940 283L945 284L947 289L945 298L940 307L933 316L926 323L920 332L915 341L908 351L902 357L893 364L886 371L880 383L875 392L868 400L861 406L851 411L840 418L828 422L816 426L802 432Z"/>
<g clip-path="url(#c1)"><g class="pt" filter="url(#bl)">
<path d="M955 358h0M822 393h0M893 322h0M855 403h0M824 395h0M893 336h0M841 374h0M956 272h0M868 351h0M885 326h0M887 330h0M883 343h0M859 363h0M892 333h0M835 406h0M818 411h0M925 304h0M1048 301h0M943 284h0M829 411h0M906 319h0M806 407h0M791 427h0M857 356h0M818 389h0M807 392h0M796 334h0M801 402h0M881 380h0M799 411h0M867 344h0M798 423h0M849 361h0M829 390h0M829 389h0M839 406h0M900 322h0M828 369h0M850 397h0M884 332h0M946 286h0M904 347h0M837 405h0M924 294h0M899 351h0M837 403h0M847 289h0M855 408h0M882 344h0M879 343h0M852 413h0M794 416h0M867 358h0M806 387h0M806 418h0M797 410h0M966 320h0M829 442h0M884 367h0M795 393h0M814 413h0M800 406h0M844 394h0M915 324h0M822 415h0M790 427h0M819 395h0M868 388h0M897 398h0M837 378h0M880 346h0M821 349h0M794 406h0M903 323h0M890 367h0M886 325h0M883 345h0M810 399h0M895 330h0M918 312h0M916 323h0M827 377h0M863 387h0M848 408h0M882 341h0M972 269h0M799 406h0M910 341h0M866 372h0M848 367h0M882 364h0M856 404h0M970 404h0M905 319h0M881 361h0M900 326h0M935 289h0M702 416h0M843 359h0M886 352h0M853 370h0M800 395h0M864 381h0M816 393h0M861 427h0M873 376h0M828 377h0M909 306h0"/>
<path d="M932 301h0M936 293h0M937 301h0M803 392h0M814 438h0M832 381h0M830 413h0M888 338h0M872 377h0M839 379h0M843 401h0M793 421h0M827 409h0M898 328h0M873 347h0M865 357h0M793 402h0M887 346h0M800 404h0M895 331h0M827 403h0M909 328h0M933 309h0M862 355h0M906 330h0M829 388h0M920 312h0M790 411h0M876 352h0M906 325h0M918 311h0M864 389h0M928 305h0M775 362h0M821 419h0M798 414h0M876 343h0M920 309h0M921 316h0M849 366h0M908 337h0M851 365h0M864 394h0M951 282h0M819 358h0M834 372h0M935 295h0M917 311h0M957 292h0M848 402h0M803 403h0M901 335h0M860 375h0M896 343h0M931 325h0M893 347h0M833 381h0M914 318h0M838 411h0M809 393h0M927 365h0M803 404h0M900 341h0M905 339h0M913 299h0M797 424h0M928 308h0M701 428h0M910 328h0M901 324h0M848 407h0M870 353h0M889 326h0M831 382h0M799 421h0M1005 296h0M858 396h0M799 414h0M902 390h0M913 319h0M821 379h0M796 388h0M852 399h0M915 318h0M823 389h0M830 420h0M859 362h0M820 396h0M799 428h0M841 375h0M912 326h0M871 356h0M942 290h0M860 357h0M858 399h0M782 438h0M880 343h0M834 410h0M875 402h0M818 393h0M865 304h0M891 344h0M937 275h0M929 321h0M831 401h0M886 357h0M880 358h0M852 361h0"/>
<path d="M795 428h0M840 406h0M833 378h0M798 420h0M841 409h0M823 423h0M866 383h0M924 304h0M885 373h0M818 405h0M828 408h0M849 367h0M822 403h0M794 416h0M881 358h0M853 372h0M789 415h0M811 417h0M911 326h0M841 351h0M913 324h0M875 367h0M799 405h0M898 349h0M863 377h0M914 324h0M930 313h0M828 387h0M879 377h0M864 359h0M822 414h0M894 354h0M868 389h0M846 367h0M878 337h0M803 409h0M913 314h0M807 389h0M807 416h0M825 410h0M883 344h0M906 320h0M937 301h0M794 339h0M937 297h0M897 397h0M802 407h0M922 302h0M905 343h0M823 397h0M830 415h0M833 417h0M907 318h0M875 310h0M865 360h0M900 348h0M840 375h0M853 403h0M905 325h0M799 407h0M929 343h0M923 319h0M901 337h0M811 396h0M804 428h0M904 327h0M892 335h0M843 308h0M818 426h0M893 275h0M788 429h0M884 356h0M907 350h0M824 416h0M817 419h0M872 347h0M798 412h0M878 367h0M934 302h0M882 355h0M796 431h0M975 270h0M933 282h0M792 415h0M821 406h0M911 333h0M856 403h0M864 353h0M799 405h0M943 293h0M819 415h0M804 408h0M867 390h0M913 320h0M909 320h0M864 354h0M870 377h0M893 357h0M824 336h0M911 321h0M914 316h0M823 393h0M942 293h0M894 335h0M856 400h0M905 330h0M914 329h0M834 429h0"/>
<path d="M821 412h0M886 362h0M831 377h0M911 304h0M839 379h0M928 296h0M838 418h0M864 357h0M913 336h0M882 366h0M812 393h0M859 379h0M792 418h0M913 324h0M845 372h0M881 335h0M866 354h0M917 323h0M838 350h0M901 322h0M919 319h0M880 377h0M804 417h0M851 380h0M828 413h0M892 364h0M843 403h0M875 333h0M796 397h0M904 332h0M887 340h0M818 393h0M842 409h0M875 350h0M845 412h0M971 263h0M905 347h0M909 333h0M861 392h0M838 373h0M791 429h0M850 400h0M826 415h0M880 371h0M817 389h0M925 304h0M811 386h0M843 370h0M913 272h0M869 378h0M930 297h0M825 415h0M906 339h0M853 358h0M905 343h0M797 401h0M842 365h0M942 310h0M865 388h0M937 293h0M867 364h0M909 328h0M875 364h0M866 344h0M832 383h0M872 380h0M860 398h0M814 411h0M834 372h0M793 430h0M824 410h0M873 381h0M814 421h0M911 312h0M966 270h0M882 368h0M937 299h0M876 382h0M819 383h0M884 344h0M826 391h0M871 364h0M848 368h0M848 361h0M873 348h0M795 414h0M903 319h0M1061 258h0M895 326h0M871 374h0M793 410h0M879 362h0M898 330h0M906 316h0M909 316h0M889 358h0M861 391h0M819 403h0M962 281h0M890 353h0M854 395h0M838 411h0M797 417h0M852 368h0M829 383h0M887 362h0M826 346h0M810 374h0"/>
<path d="M925 349h0M879 338h0M820 418h0M889 365h0M879 374h0M799 429h0M867 349h0M845 368h0M917 329h0M935 327h0M898 327h0M807 421h0M795 421h0M841 382h0M845 411h0M815 395h0M796 419h0M842 375h0M845 399h0M872 348h0M837 406h0M855 408h0M835 405h0M872 379h0M913 331h0M859 406h0M869 385h0M836 407h0M915 318h0M881 383h0M823 411h0M932 292h0M887 394h0M837 382h0M852 363h0M817 393h0M839 389h0M871 380h0M799 420h0M799 424h0M900 328h0M820 395h0M880 358h0M853 401h0M867 386h0M833 378h0M913 339h0M835 406h0M896 317h0M873 376h0M827 410h0M822 398h0M919 323h0M842 406h0M804 406h0M911 328h0M800 410h0M816 393h0M866 346h0M815 420h0M929 340h0M846 406h0M894 329h0M893 324h0M816 419h0M937 297h0M803 422h0M893 355h0M882 358h0M930 315h0M854 358h0M871 382h0M788 410h0M868 394h0M926 315h0M908 379h0M931 296h0M863 353h0M839 377h0M859 391h0M845 406h0M919 321h0M905 338h0M816 426h0M844 361h0M819 427h0M866 358h0M912 313h0M861 356h0M933 304h0M840 406h0M808 354h0M910 331h0M900 351h0M896 348h0M857 364h0M843 373h0M1057 235h0M873 386h0M817 417h0M916 311h0M841 358h0M901 334h0M901 345h0M832 360h0M830 404h0M815 409h0M886 417h0"/>
<path d="M869 384h0M794 426h0M857 362h0M907 346h0M840 367h0M867 383h0M912 308h0M969 301h0M919 309h0M891 349h0M869 385h0M918 327h0M843 373h0M827 410h0M804 416h0M806 375h0M941 294h0M907 346h0M904 337h0M931 296h0M832 411h0M906 339h0M815 394h0M839 343h0M837 273h0M799 432h0M865 400h0M901 323h0M910 315h0M851 400h0M879 370h0M923 313h0M875 366h0M916 321h0M796 403h0M879 366h0M866 358h0M843 401h0M843 409h0M873 375h0M902 319h0M869 379h0M906 332h0M835 410h0M797 402h0M874 351h0M875 375h0M878 380h0M886 356h0M826 383h0M805 408h0M812 415h0M797 405h0M872 374h0M860 365h0M923 315h0M870 383h0M887 324h0M929 304h0M840 409h0M878 345h0M866 350h0M817 417h0M817 412h0M797 415h0M906 340h0M852 408h0M846 414h0M837 372h0M906 340h0M803 406h0M849 366h0M844 410h0M865 357h0M917 306h0M822 393h0M920 306h0M820 415h0M886 361h0M878 337h0M932 319h0M805 416h0M953 314h0M883 340h0M881 362h0M842 371h0M821 394h0M856 363h0M754 380h0M792 419h0M831 366h0M886 345h0M814 399h0M864 393h0M929 311h0M900 327h0M877 338h0M793 413h0M808 397h0M972 344h0M827 412h0M833 409h0M935 300h0M794 423h0M886 334h0M855 393h0M801 420h0M808 397h0"/>
<path d="M924 319h0M791 437h0M844 365h0M812 395h0M812 393h0M1043 361h0M877 376h0M829 372h0M851 338h0M920 346h0M884 364h0M867 380h0M909 324h0M860 397h0M876 366h0M929 307h0M827 381h0M901 315h0M972 266h0M913 343h0M829 385h0M798 426h0M892 333h0M836 371h0M949 272h0M904 336h0M951 294h0M860 357h0M892 335h0M904 348h0M843 406h0M979 287h0M898 340h0M869 397h0M886 357h0M847 402h0M916 313h0M919 297h0M806 431h0M914 310h0M929 295h0M914 314h0M903 334h0M942 292h0M810 424h0M959 274h0M814 420h0M867 394h0M844 370h0M955 303h0M911 346h0M864 352h0M843 395h0M897 353h0M828 396h0M790 423h0M891 340h0M989 219h0M873 381h0M807 432h0M928 313h0M1050 211h0M905 316h0M924 340h0M868 378h0M809 408h0M921 315h0M795 424h0M933 302h0M879 344h0M850 385h0M850 396h0M809 396h0M788 421h0M825 396h0M835 412h0M891 337h0M814 388h0M796 405h0M795 430h0M858 395h0M797 399h0M928 309h0M900 322h0M864 394h0M888 333h0M916 309h0M809 421h0M799 408h0M852 385h0M907 342h0M824 414h0M887 364h0M871 380h0M878 339h0M872 418h0M819 395h0M909 356h0M945 277h0M932 307h0M963 307h0M791 414h0M846 353h0M803 401h0M905 321h0M855 366h0M879 371h0M860 398h0"/>
<path d="M840 324h0M853 437h0M873 355h0M817 391h0M906 338h0M924 318h0M824 406h0M895 347h0M842 199h0M863 362h0M840 407h0M924 310h0M830 416h0M803 423h0M925 308h0M786 426h0M903 338h0M865 388h0M848 237h0M825 409h0M852 368h0M890 336h0M905 355h0M797 403h0M880 347h0M867 340h0M886 335h0M828 388h0M914 319h0M842 383h0M927 313h0M829 415h0M917 317h0M880 341h0M871 384h0M911 362h0M962 276h0M891 331h0M827 380h0M841 369h0M839 391h0M863 387h0M905 321h0M877 338h0M914 324h0M878 354h0M820 422h0M806 400h0M839 404h0M907 329h0M905 331h0M802 271h0M882 402h0M876 346h0M910 330h0M917 325h0M838 374h0M894 338h0M862 386h0M909 345h0M811 391h0M871 379h0M786 420h0M920 301h0M903 325h0M809 397h0M845 380h0M833 415h0M921 317h0M850 368h0M808 425h0M830 382h0M821 305h0M871 356h0M877 344h0M924 338h0M879 361h0M790 430h0M936 296h0M828 413h0M842 404h0M919 320h0M843 376h0M825 388h0M793 427h0M804 422h0M857 380h0M900 342h0M766 400h0M864 377h0M789 424h0M860 365h0M853 404h0M912 328h0M866 391h0M875 345h0M877 347h0M920 314h0M890 316h0M925 314h0M864 393h0M922 311h0M883 331h0M920 311h0M808 396h0M847 404h0M905 397h0M955 410h0"/>
<path d="M873 372h0M838 416h0M828 414h0M858 364h0M879 363h0M903 326h0M944 286h0M899 345h0M863 381h0M865 356h0M862 359h0M846 396h0M846 374h0M795 409h0M872 376h0M919 329h0M907 379h0M886 341h0M927 300h0M831 426h0M876 384h0M864 388h0M816 411h0M818 395h0M814 419h0M895 354h0M876 374h0M893 395h0M881 339h0M795 417h0M929 297h0M843 407h0M887 342h0M964 263h0M900 329h0M914 303h0M859 316h0M811 337h0M790 425h0M802 420h0M804 407h0M811 413h0M799 415h0M890 360h0M849 381h0M804 399h0M875 351h0M808 401h0M839 366h0M911 327h0M797 396h0M872 329h0M793 425h0M832 407h0M815 417h0M798 413h0M924 313h0M844 370h0M895 331h0M907 324h0M815 397h0M835 411h0M910 330h0M799 412h0M898 342h0M926 317h0M909 297h0M871 350h0M902 349h0M896 324h0M847 359h0M930 309h0M855 393h0M798 422h0M873 388h0M857 401h0M835 374h0M784 391h0M834 381h0M807 434h0M897 323h0M900 350h0M800 410h0M754 421h0M900 347h0M898 344h0M843 350h0M821 388h0M944 302h0M863 360h0M901 351h0M846 394h0M891 336h0M884 361h0M847 401h0M832 384h0M839 356h0M794 375h0M827 401h0M898 332h0M877 334h0M797 411h0M800 406h0M926 302h0M874 362h0M916 325h0M874 360h0M867 355h0"/>
<path d="M831 387h0M859 357h0M814 416h0M796 359h0M861 387h0M931 305h0M912 316h0M824 387h0M795 424h0M859 400h0M935 306h0M929 298h0M838 411h0M835 352h0M832 380h0M925 313h0M810 420h0M912 332h0M948 399h0M817 395h0M881 360h0M889 356h0M830 412h0M804 419h0M904 322h0M872 346h0M814 386h0M883 369h0M892 333h0M828 408h0M896 335h0M866 356h0M870 376h0M875 373h0M905 317h0M867 352h0M857 340h0M873 350h0M865 388h0M916 322h0M833 380h0M879 340h0M925 303h0M812 398h0M873 352h0M843 400h0M875 385h0M868 351h0M818 415h0M932 297h0M856 374h0M796 428h0M858 396h0M814 387h0M897 293h0M837 382h0M778 378h0M929 310h0M904 331h0M851 374h0M785 415h0M854 365h0M817 412h0M960 317h0M910 321h0M931 310h0M899 316h0M932 330h0M788 438h0M878 349h0M912 378h0M907 327h0M865 394h0M837 371h0M900 341h0M940 289h0M788 412h0M907 338h0M842 363h0M791 426h0M918 305h0M943 284h0M904 337h0M897 327h0M826 389h0M877 368h0M809 397h0M846 365h0M824 316h0M909 319h0M811 425h0M936 298h0M902 348h0M800 399h0M818 415h0M794 424h0M889 335h0M839 381h0M803 401h0M892 344h0M805 418h0M801 409h0M803 404h0M917 313h0M793 425h0M826 384h0M896 362h0M837 411h0"/>
<path d="M895 357h0M857 328h0M897 324h0M924 310h0M821 416h0M905 345h0M870 373h0M819 419h0M879 366h0M919 273h0M929 303h0M834 371h0M832 379h0M803 400h0M956 280h0M894 334h0M910 318h0M930 310h0M852 396h0M860 390h0M933 304h0M871 384h0M833 386h0M933 311h0M841 407h0M852 365h0M789 423h0M913 310h0M925 313h0M918 335h0M832 417h0M913 319h0M918 324h0M872 374h0M862 391h0M868 360h0M820 394h0M940 291h0M1004 275h0M873 365h0M922 324h0M812 392h0M823 383h0M805 400h0M876 367h0M818 391h0M808 356h0M799 421h0M928 308h0M827 413h0M868 362h0M862 394h0M811 393h0M902 355h0M918 306h0M796 415h0M813 414h0M896 355h0M868 386h0M835 408h0M839 403h0M832 377h0M1001 340h0M837 403h0M900 311h0M936 295h0M803 406h0M869 378h0M910 321h0M820 347h0M873 359h0M824 411h0M864 385h0M825 416h0M844 403h0M965 271h0M886 334h0M843 369h0M815 394h0M861 352h0M944 287h0M913 306h0M883 352h0M851 405h0M861 398h0M936 300h0M896 323h0M921 303h0M846 373h0M865 390h0M865 392h0M902 322h0M868 391h0M828 388h0M832 405h0M876 246h0M997 301h0M850 393h0M880 364h0M790 417h0M907 343h0M875 347h0M934 314h0M818 390h0M847 366h0M926 304h0M795 411h0M854 368h0"/>
<path d="M810 394h0M912 320h0M862 389h0M865 381h0M799 430h0M926 304h0M877 373h0M936 271h0M898 322h0M874 353h0M919 320h0M856 395h0M909 324h0M894 331h0M834 411h0M805 404h0M909 313h0M845 405h0M784 417h0M848 400h0M908 333h0M821 418h0M874 400h0M874 351h0M814 395h0M839 408h0M841 407h0M857 401h0M928 302h0M936 287h0M903 342h0M806 417h0M844 404h0M820 415h0M816 419h0M885 355h0M830 381h0M903 305h0M873 384h0M844 402h0M916 308h0M788 419h0M870 386h0M825 394h0M827 391h0M820 390h0M839 411h0M884 374h0M866 391h0M930 305h0M822 417h0M837 393h0M865 403h0M807 403h0M920 321h0M798 414h0M793 403h0M872 350h0M873 367h0M872 343h0M878 362h0M837 406h0M865 363h0M822 386h0M1002 244h0M872 336h0M1003 349h0M813 417h0M804 406h0M789 428h0M849 400h0M832 379h0M936 361h0M935 296h0M807 429h0M886 353h0M866 390h0M850 298h0M887 365h0M916 319h0M872 388h0M789 414h0M843 365h0M892 356h0M842 370h0M889 353h0M822 411h0M896 343h0M804 404h0M866 383h0M859 356h0M915 340h0M976 290h0M852 402h0M846 374h0M889 352h0M838 411h0M834 397h0M974 302h0M911 325h0M814 391h0M887 372h0M841 407h0M865 352h0M865 383h0M811 386h0M877 370h0M843 373h0"/>
<path d="M916 320h0M865 355h0M868 377h0M908 335h0M848 409h0M804 398h0M845 397h0M903 342h0M936 304h0M850 363h0M831 413h0M818 405h0M857 398h0M887 333h0M851 404h0M794 413h0M807 421h0M903 329h0M788 380h0M807 385h0M819 414h0M797 407h0M855 400h0M793 419h0M870 373h0M900 351h0M861 373h0M828 386h0M802 418h0M896 328h0M818 403h0M910 344h0M816 393h0M897 329h0M845 388h0M818 385h0M827 393h0M897 349h0M890 359h0M870 357h0M843 377h0M919 313h0M871 390h0M906 318h0M846 406h0M853 392h0M866 390h0M952 330h0M914 374h0M799 424h0M914 408h0M917 312h0M813 324h0M909 310h0M925 325h0M802 424h0M819 392h0M794 433h0M823 417h0M859 386h0M873 386h0M850 397h0M856 392h0M876 355h0M869 280h0M877 325h0M801 440h0M787 428h0M856 349h0M826 388h0M859 333h0M815 421h0M869 357h0M850 414h0M842 407h0M961 274h0M859 390h0M863 394h0M847 366h0M875 370h0M797 418h0M887 346h0M905 323h0M910 327h0M816 390h0M957 416h0M919 314h0M889 360h0M846 384h0M927 322h0M963 354h0M892 361h0M835 367h0M933 303h0M939 289h0M869 390h0M837 366h0M888 360h0M891 333h0M835 373h0M918 380h0M842 401h0M821 385h0M792 415h0M876 362h0M804 422h0M950 272h0M865 326h0"/>
<path d="M834 412h0M820 396h0M835 407h0M870 376h0M824 403h0M835 383h0M833 393h0M951 275h0M792 427h0M792 429h0M907 340h0M910 312h0M770 407h0M899 347h0M955 285h0M848 371h0M944 290h0M908 332h0M926 316h0M848 401h0M830 408h0M924 335h0M895 302h0M798 425h0M896 397h0M796 421h0M936 280h0M786 420h0M885 356h0M854 357h0M903 323h0M796 413h0M875 364h0M846 374h0M932 290h0M791 411h0M871 351h0M932 314h0M809 394h0M907 326h0M871 380h0M854 360h0M837 405h0M838 405h0M845 383h0M901 321h0M913 303h0M819 395h0M866 385h0M922 315h0M799 423h0M823 416h0M827 397h0M833 377h0M783 411h0M809 387h0M942 288h0M817 396h0M829 408h0M805 403h0M930 305h0M930 304h0M924 300h0M877 371h0M902 325h0M829 393h0M898 309h0M805 363h0M850 365h0M936 317h0M818 411h0M898 324h0M867 389h0M849 405h0M799 412h0M820 386h0M897 353h0M871 376h0M803 395h0M828 391h0M908 340h0M835 414h0M863 391h0M915 331h0M952 277h0M875 365h0M919 315h0M788 425h0M887 341h0M823 414h0M863 399h0M901 317h0M905 345h0M914 307h0M861 147h0M874 352h0M792 431h0M829 409h0M789 404h0M895 330h0M836 383h0M842 409h0M899 323h0M922 314h0M907 338h0M929 317h0M867 353h0"/>
<path d="M924 343h0M869 385h0M909 342h0M942 289h0M883 343h0M891 327h0M844 415h0M793 433h0M855 397h0M937 292h0M800 385h0M888 331h0M830 387h0M872 381h0M846 384h0M919 312h0M879 432h0M808 408h0M894 317h0M920 311h0M888 359h0M944 325h0M896 355h0M867 359h0M843 356h0M851 400h0M863 310h0M855 403h0M828 386h0M778 428h0M796 422h0M792 447h0M863 398h0M801 415h0M905 333h0M835 380h0M925 304h0M914 316h0M904 339h0M886 341h0M870 391h0M811 395h0M818 390h0M843 409h0M944 276h0M926 301h0M820 412h0M924 336h0M903 348h0M788 403h0M845 375h0M843 377h0M852 398h0M927 313h0M834 417h0M867 381h0M858 370h0M887 341h0M935 299h0M857 359h0M862 358h0M846 368h0M830 383h0M865 272h0M844 405h0M830 353h0M883 330h0M854 398h0M891 358h0M871 342h0M834 398h0M797 441h0M902 348h0M901 352h0M806 394h0M841 376h0M848 366h0M812 420h0M882 357h0M922 311h0M875 350h0M804 424h0M842 369h0M846 370h0M847 399h0M916 315h0M824 395h0M810 401h0M929 290h0M810 393h0M915 314h0M801 419h0M813 400h0M910 342h0M928 305h0M793 413h0M893 361h0M873 350h0M900 345h0M920 308h0M936 299h0M845 409h0M894 346h0M778 409h0M804 406h0M856 378h0M882 356h0"/>
<path d="M783 377h0M794 415h0M880 341h0M810 399h0M888 350h0M873 374h0M911 392h0M925 312h0M890 337h0M909 335h0M873 347h0M888 327h0M836 410h0M856 400h0M982 238h0M806 395h0M884 340h0M888 352h0M858 394h0M931 308h0M860 375h0M951 302h0M934 296h0M825 381h0M804 430h0M746 438h0M856 375h0M894 330h0M851 361h0M862 376h0M858 365h0M862 401h0M888 351h0M873 353h0M815 417h0M921 356h0M803 418h0M763 405h0M955 314h0M910 336h0M848 343h0M877 324h0M867 384h0M825 394h0M912 318h0M901 320h0M872 382h0M879 345h0M897 350h0M762 429h0M890 321h0M831 375h0M778 418h0M896 344h0M797 370h0M871 360h0M848 397h0M829 378h0M803 417h0M789 411h0M824 391h0M858 357h0M797 408h0M930 340h0M874 367h0M948 413h0M836 374h0M939 269h0M816 396h0M870 344h0M944 303h0M866 382h0M855 393h0M880 344h0M820 393h0M933 302h0M803 423h0M842 352h0M934 311h0M865 397h0M800 419h0M925 304h0M835 379h0M938 302h0M892 360h0M799 401h0M840 285h0M820 418h0M877 382h0M807 402h0M850 346h0M810 424h0M883 359h0M856 373h0M936 292h0M870 376h0M852 363h0M882 369h0M789 425h0M878 373h0M841 377h0M820 413h0M801 422h0M786 413h0M823 403h0M800 417h0M891 370h0"/>
<path d="M829 409h0M860 364h0M875 370h0M881 332h0M838 387h0M858 403h0M808 392h0M795 399h0M825 410h0M848 400h0M803 408h0M908 332h0M865 396h0M792 428h0M824 399h0M925 307h0M796 422h0M884 365h0M845 366h0M858 371h0M883 364h0M839 380h0M944 296h0M934 302h0M839 415h0M833 384h0M848 403h0M808 392h0M795 412h0M792 420h0M866 381h0M936 337h0M904 347h0M815 388h0M916 328h0M920 294h0M904 346h0M937 294h0M788 417h0M882 320h0M862 358h0M792 421h0M881 361h0M952 293h0M852 375h0M869 389h0M878 328h0M832 397h0M919 305h0M855 401h0M871 398h0M913 316h0M787 374h0M889 355h0M856 367h0M859 361h0M872 361h0M912 329h0M892 334h0M821 407h0M970 276h0M884 335h0M873 344h0M857 339h0M949 307h0M889 345h0M846 406h0M931 309h0M869 375h0M860 398h0M841 372h0M918 351h0M885 339h0M930 308h0M912 311h0M939 302h0M936 336h0M803 407h0M915 382h0M852 398h0M890 355h0M907 345h0M940 299h0M901 356h0M803 414h0M880 353h0M913 332h0M814 418h0M936 303h0M795 427h0M918 312h0M887 366h0M859 365h0M918 305h0M888 339h0M862 395h0M881 361h0M798 410h0M930 301h0M902 328h0M886 362h0M909 315h0M887 326h0M840 417h0M856 308h0M795 430h0M876 363h0"/>
<path d="M804 409h0M877 361h0M795 408h0M882 359h0M820 396h0M856 399h0M914 313h0M794 411h0M894 354h0M870 394h0M897 350h0M835 369h0M950 306h0M933 302h0M906 315h0M837 411h0M797 427h0M904 317h0M890 347h0M807 424h0M827 379h0M853 367h0M890 356h0M916 320h0M910 327h0M889 339h0M807 401h0M892 333h0M804 397h0M803 394h0M874 376h0M896 321h0M876 366h0M915 312h0M880 383h0M874 340h0M849 407h0M867 392h0M923 333h0M888 356h0M927 313h0M928 324h0M875 349h0M906 352h0M878 338h0M787 412h0M884 340h0M823 383h0M906 308h0M901 328h0M932 294h0M867 350h0M933 296h0M921 308h0M864 362h0M935 300h0M863 388h0M894 346h0M792 434h0M832 376h0M821 395h0M926 317h0M879 347h0M917 319h0M792 433h0M829 408h0M813 392h0M876 342h0M870 389h0M912 309h0M831 417h0M837 329h0M840 357h0M960 272h0M820 414h0M882 360h0M881 335h0M830 407h0M887 360h0M804 419h0M947 305h0M884 362h0M935 297h0M915 310h0M837 408h0M796 416h0M920 321h0M844 405h0M799 431h0M931 299h0M843 373h0M908 312h0M960 273h0M776 428h0M851 399h0M815 416h0M834 409h0M789 415h0M904 337h0M898 353h0M844 405h0M859 361h0M930 318h0M924 330h0M898 358h0M804 423h0M797 425h0"/>
<path d="M910 317h0M918 306h0M869 387h0M853 400h0M894 335h0M858 361h0M908 321h0M814 416h0M857 326h0M987 258h0M802 397h0M827 409h0M841 402h0M895 346h0M888 335h0M925 312h0M819 412h0M851 400h0M905 331h0M792 424h0M864 369h0M792 432h0M831 385h0M901 345h0M908 336h0M816 398h0M956 277h0M893 346h0M904 373h0M830 389h0M835 405h0M800 403h0M879 341h0M877 367h0M903 337h0M1011 396h0M1015 248h0M841 378h0M831 433h0M939 302h0M770 420h0M833 411h0M870 377h0M897 359h0M837 408h0M932 300h0M879 334h0M809 385h0M838 409h0M834 309h0M794 364h0M846 407h0M870 348h0M916 364h0M907 332h0M778 414h0M858 334h0M915 315h0M887 339h0M858 395h0M870 385h0M838 166h0M896 334h0M888 327h0M808 415h0M824 390h0M892 328h0M952 280h0M885 354h0M905 340h0M789 422h0M891 350h0M819 418h0M827 378h0M857 376h0M808 415h0M904 359h0M839 402h0M862 358h0M960 289h0M902 346h0M828 410h0M912 314h0M904 315h0M887 358h0M869 351h0M834 209h0M842 407h0M902 338h0M871 377h0M940 304h0M824 400h0M849 372h0M864 392h0M906 323h0M858 302h0M885 342h0M830 382h0M808 423h0M892 370h0M901 327h0M844 405h0M829 382h0M810 398h0M840 372h0M873 346h0M850 369h0"/>
<path d="M914 310h0M834 413h0M895 350h0M929 302h0M876 381h0M879 368h0M914 316h0M920 307h0M913 328h0M907 347h0M830 371h0M858 363h0M793 429h0M930 293h0M843 401h0M856 397h0M847 355h0M895 332h0M803 424h0M795 416h0M882 344h0M875 365h0M799 424h0M884 360h0M841 413h0M913 322h0M805 418h0M846 351h0M854 385h0M841 368h0M849 395h0M909 359h0M875 372h0M917 312h0M802 417h0M826 419h0M935 295h0M939 300h0M796 374h0M893 315h0M795 416h0M914 317h0M808 392h0M866 346h0M886 373h0M887 369h0M906 300h0M816 416h0M831 379h0M919 314h0M891 357h0M822 392h0M898 329h0M850 400h0M921 313h0M901 346h0M848 366h0M797 429h0M794 434h0M863 361h0M893 332h0M811 414h0M811 415h0M897 348h0M856 400h0M882 345h0M808 414h0M918 314h0M932 296h0M870 391h0M856 396h0M776 392h0M800 425h0M906 335h0M869 375h0M927 312h0M798 370h0M853 364h0M991 313h0M876 394h0M881 358h0M807 397h0M923 296h0M798 405h0M884 342h0M844 382h0M845 365h0M820 384h0M838 368h0M798 409h0M871 373h0M910 317h0M944 352h0M909 328h0M865 398h0M868 374h0M833 414h0M939 295h0M888 333h0M876 379h0M898 342h0M885 356h0M930 300h0M912 309h0M890 363h0M858 391h0M845 322h0"/>
</g></g>
<path class="dg" stroke-width="2.3" d="M670.4 560.8L1156.7 74.5"/>
<path class="tk" d="M739.9 560.8v-15.5M739.9 74.5v15.5M670.4 491.3h15.5M1156.7 491.3h-15.5M809.3 560.8v-32M809.3 74.5v32M670.4 421.9h32M1156.7 421.9h-32M878.8 560.8v-15.5M878.8 74.5v15.5M670.4 352.4h15.5M1156.7 352.4h-15.5M948.3 560.8v-32M948.3 74.5v32M670.4 282.9h32M1156.7 282.9h-32M1017.8 560.8v-15.5M1017.8 74.5v15.5M670.4 213.4h15.5M1156.7 213.4h-15.5M1087.2 560.8v-32M1087.2 74.5v32M670.4 144.0h32M1156.7 144.0h-32"/>
<rect class="fr" x="670.4" y="74.5" width="486.3" height="486.3"/>
<clipPath id="c2"><rect x="1232.7" y="74.5" width="486.1" height="486.3"/></clipPath>
<path class="so" stroke-width="20" d="M1353 437L1342 426L1339 414L1346 403L1355 392L1362 380L1367 369L1374 362L1380 366L1390 364L1396 357L1406 353L1415 346L1424 340L1433 334L1442 326L1453 318L1463 312L1472 306L1484 296L1493 289L1502 282L1512 275L1518 270L1524 271L1528 277L1525 286L1521 296L1516 305L1512 314L1507 323L1500 332L1493 341L1486 348L1476 356L1467 362L1458 370L1448 380L1441 391L1431 398L1422 405L1410 414L1399 421L1387 426L1376 430L1364 435Z"/>
<g clip-path="url(#c2)"><g class="pt" filter="url(#bl)">
<path d="M1485 336h0M1458 322h0M1519 286h0M1439 330h0M1413 397h0M1354 426h0M1502 347h0M1443 339h0M1479 342h0M1422 388h0M1465 319h0M1438 341h0M1377 393h0M1481 301h0M1393 368h0M1433 348h0M1411 397h0M1469 359h0M1332 416h0M1383 384h0M1365 426h0M1500 297h0M1527 286h0M1368 391h0M1361 424h0M1509 292h0M1410 408h0M1482 336h0M1421 354h0M1466 316h0M1504 309h0M1419 400h0M1437 382h0M1460 362h0M1413 402h0M1443 328h0M1516 294h0M1377 416h0M1491 326h0M1420 354h0M1512 293h0M1345 417h0M1384 367h0M1476 307h0M1416 356h0M1433 345h0M1415 394h0M1515 276h0M1424 387h0M1397 411h0M1497 303h0M1432 359h0M1509 310h0M1360 438h0M1393 409h0M1480 313h0M1456 331h0M1502 303h0M1474 317h0M1339 438h0M1431 379h0M1401 371h0M1478 340h0M1508 302h0M1441 371h0M1512 296h0M1423 183h0M1469 347h0M1501 314h0M1473 325h0M1476 317h0M1575 290h0M1490 326h0M1353 429h0M1497 309h0M1350 401h0M1412 372h0M1463 365h0M1357 399h0M1404 363h0M1379 416h0M1442 363h0M1360 407h0M1514 288h0M1449 337h0M1477 338h0M1434 341h0M1484 308h0M1495 303h0M1495 298h0M1364 394h0M1516 274h0M1381 416h0M1501 310h0M1460 325h0M1448 352h0M1342 407h0M1475 320h0M1430 344h0M1487 297h0M1368 392h0M1469 346h0M1357 381h0M1401 293h0M1409 420h0M1439 345h0M1434 348h0M1395 375h0M1360 425h0M1416 306h0M1362 401h0M1442 374h0M1353 426h0M1357 422h0M1484 342h0M1517 290h0M1449 380h0M1435 368h0M1436 382h0M1474 347h0M1487 311h0M1394 420h0M1481 337h0M1442 384h0M1451 339h0M1431 348h0M1502 307h0M1507 303h0M1485 317h0M1500 292h0M1383 420h0"/>
<path d="M1444 369h0M1393 376h0M1421 403h0M1442 368h0M1429 378h0M1508 285h0M1446 304h0M1346 413h0M1343 419h0M1389 414h0M1402 230h0M1346 408h0M1513 272h0M1406 373h0M1481 337h0M1441 366h0M1393 372h0M1376 372h0M1446 327h0M1423 381h0M1417 395h0M1376 386h0M1340 429h0M1470 317h0M1479 311h0M1400 367h0M1511 310h0M1491 300h0M1428 395h0M1399 376h0M1428 367h0M1498 341h0M1470 344h0M1488 342h0M1471 350h0M1422 391h0M1395 412h0M1461 335h0M1483 311h0M1392 412h0M1417 370h0M1393 404h0M1498 322h0M1383 426h0M1486 308h0M1437 388h0M1427 378h0M1438 383h0M1511 308h0M1511 310h0M1345 403h0M1445 337h0M1491 308h0M1410 361h0M1533 281h0M1438 358h0M1357 431h0M1411 298h0M1464 353h0M1419 385h0M1447 363h0M1374 427h0M1363 259h0M1423 392h0M1371 423h0M1496 334h0M1331 439h0M1513 284h0M1512 290h0M1411 294h0M1382 419h0M1316 407h0M1347 421h0M1391 419h0M1450 336h0M1479 343h0M1408 353h0M1466 321h0M1440 389h0M1450 369h0M1453 325h0M1359 408h0M1471 313h0M1409 329h0M1367 385h0M1484 347h0M1389 387h0M1365 392h0M1389 419h0M1485 306h0M1509 299h0M1429 385h0M1400 380h0M1459 280h0M1428 392h0M1435 383h0M1497 314h0M1404 404h0M1486 312h0M1536 271h0M1491 316h0M1408 407h0M1372 457h0M1367 390h0M1484 303h0M1525 285h0M1416 351h0M1453 343h0M1524 297h0M1516 293h0M1360 407h0M1456 330h0M1474 315h0M1508 302h0M1507 311h0M1371 391h0M1486 306h0M1493 301h0M1371 360h0M1404 361h0M1354 403h0M1413 356h0M1520 346h0M1506 299h0M1441 371h0M1499 319h0M1368 421h0M1490 322h0M1471 351h0M1434 393h0M1343 387h0"/>
<path d="M1482 301h0M1386 378h0M1445 338h0M1363 424h0M1421 385h0M1429 348h0M1493 334h0M1443 329h0M1347 421h0M1527 333h0M1470 351h0M1440 380h0M1400 373h0M1407 402h0M1291 412h0M1454 364h0M1519 278h0M1450 328h0M1441 345h0M1492 323h0M1455 361h0M1382 325h0M1429 347h0M1545 264h0M1421 362h0M1463 388h0M1387 390h0M1407 359h0M1347 419h0M1432 383h0M1496 325h0M1498 286h0M1366 386h0M1469 356h0M1490 302h0M1433 358h0M1391 351h0M1394 372h0M1408 362h0M1485 338h0M1456 326h0M1427 348h0M1414 401h0M1519 283h0M1535 266h0M1499 342h0M1438 383h0M1533 403h0M1481 377h0M1415 391h0M1464 325h0M1481 304h0M1435 362h0M1457 363h0M1454 363h0M1429 339h0M1444 341h0M1292 305h0M1378 422h0M1396 282h0M1405 272h0M1501 312h0M1511 309h0M1401 406h0M1363 395h0M1420 346h0M1523 301h0M1507 296h0M1417 398h0M1452 388h0M1349 419h0M1406 420h0M1408 341h0M1404 313h0M1453 326h0M1442 381h0M1396 413h0M1395 413h0M1368 431h0M1507 306h0M1434 385h0M1402 362h0M1349 426h0M1429 380h0M1433 272h0M1388 369h0M1352 430h0M1432 346h0M1515 288h0M1405 405h0M1417 397h0M1365 423h0M1348 431h0M1509 295h0M1374 380h0M1394 377h0M1400 393h0M1354 431h0M1366 425h0M1374 417h0M1454 313h0M1389 390h0M1400 366h0M1458 326h0M1505 292h0M1371 366h0M1360 393h0M1406 368h0M1384 375h0M1426 94h0M1376 377h0M1499 296h0M1468 317h0M1457 333h0M1449 367h0M1452 323h0M1371 428h0M1406 403h0M1398 381h0M1512 347h0M1483 323h0M1491 334h0M1364 405h0M1491 281h0M1382 378h0M1389 376h0M1540 265h0M1367 395h0M1400 363h0M1410 364h0M1444 340h0"/>
<path d="M1459 359h0M1460 330h0M1394 420h0M1341 393h0M1398 394h0M1362 401h0M1367 355h0M1465 317h0M1482 328h0M1349 413h0M1489 301h0M1475 343h0M1483 334h0M1403 320h0M1443 332h0M1469 350h0M1406 402h0M1459 363h0M1480 311h0M1501 312h0M1389 378h0M1346 402h0M1434 346h0M1449 361h0M1445 368h0M1448 335h0M1439 346h0M1476 319h0M1475 284h0M1414 351h0M1388 400h0M1389 404h0M1426 389h0M1457 353h0M1426 391h0M1444 327h0M1367 421h0M1486 329h0M1495 317h0M1437 375h0M1505 329h0M1504 292h0M1389 415h0M1462 336h0M1402 297h0M1421 301h0M1529 287h0M1403 420h0M1382 377h0M1375 375h0M1392 416h0M1582 283h0M1392 420h0M1453 357h0M1383 420h0M1511 274h0M1444 336h0M1402 355h0M1495 331h0M1447 372h0M1363 431h0M1457 390h0M1456 360h0M1482 335h0M1457 341h0M1475 332h0M1442 336h0M1369 426h0M1273 416h0M1507 304h0M1438 360h0M1347 376h0M1438 299h0M1366 382h0M1380 419h0M1436 316h0M1471 349h0M1504 311h0M1495 294h0M1374 399h0M1447 365h0M1395 411h0M1408 397h0M1478 310h0M1369 382h0M1416 404h0M1514 291h0M1351 422h0M1409 397h0M1394 368h0M1357 407h0M1402 377h0M1449 373h0M1491 329h0M1414 288h0M1502 288h0M1352 421h0M1465 322h0M1462 351h0M1362 398h0M1407 377h0M1371 417h0M1400 366h0M1445 369h0M1360 408h0M1378 420h0M1502 318h0M1492 321h0M1418 278h0M1426 392h0M1410 397h0M1347 404h0M1360 425h0M1551 252h0M1400 368h0M1413 386h0M1409 387h0M1357 352h0M1349 416h0M1429 387h0M1464 349h0M1376 427h0M1491 303h0M1486 304h0M1515 281h0M1378 417h0M1466 319h0M1452 359h0M1371 386h0M1439 338h0M1490 304h0"/>
<path d="M1430 388h0M1355 405h0M1415 306h0M1515 282h0M1381 378h0M1385 265h0M1393 376h0M1479 342h0M1495 341h0M1397 406h0M1409 381h0M1433 386h0M1398 184h0M1483 303h0M1513 294h0M1414 301h0M1364 402h0M1386 416h0M1523 287h0M1401 370h0M1351 420h0M1399 397h0M1446 371h0M1428 390h0M1375 377h0M1467 357h0M1399 203h0M1460 352h0M1469 304h0M1569 323h0M1402 394h0M1463 310h0M1434 386h0M1416 351h0M1429 337h0M1415 357h0M1451 328h0M1404 305h0M1364 395h0M1472 315h0M1366 428h0M1383 376h0M1569 301h0M1441 376h0M1432 350h0M1347 405h0M1514 337h0M1432 379h0M1364 385h0M1513 311h0M1350 374h0M1456 349h0M1360 430h0M1488 297h0M1415 400h0M1403 411h0M1501 292h0M1507 290h0M1451 346h0M1425 350h0M1441 379h0M1372 422h0M1358 423h0M1367 380h0M1440 345h0M1494 300h0M1498 319h0M1442 341h0M1346 403h0M1443 337h0M1492 301h0M1346 414h0M1437 346h0M1448 341h0M1389 405h0M1431 391h0M1520 274h0M1405 301h0M1389 378h0M1481 338h0M1370 390h0M1425 352h0M1450 324h0M1415 400h0M1521 274h0M1504 306h0M1443 342h0M1531 263h0M1382 419h0M1434 335h0M1494 322h0M1457 317h0M1488 335h0M1367 388h0M1354 394h0M1495 365h0M1456 345h0M1468 325h0M1378 420h0M1408 399h0M1352 433h0M1428 350h0M1474 344h0M1387 420h0M1490 336h0M1403 410h0M1297 408h0M1390 370h0M1411 393h0M1405 408h0M1427 377h0M1442 382h0M1414 400h0M1468 300h0M1397 372h0M1506 305h0M1444 340h0M1390 412h0M1381 378h0M1453 328h0M1482 340h0M1479 309h0M1399 419h0M1477 314h0M1402 364h0M1354 431h0M1415 399h0M1459 327h0M1512 319h0M1366 250h0"/>
<path d="M1431 350h0M1513 263h0M1348 426h0M1460 330h0M1403 342h0M1490 307h0M1376 374h0M1480 312h0M1492 301h0M1380 418h0M1504 296h0M1384 371h0M1426 395h0M1372 390h0M1358 399h0M1401 407h0M1385 283h0M1453 358h0M1506 288h0M1356 428h0M1445 373h0M1510 301h0M1495 313h0M1515 291h0M1418 395h0M1516 303h0M1519 283h0M1471 343h0M1510 300h0M1410 404h0M1469 348h0M1421 354h0M1378 415h0M1518 282h0M1437 377h0M1425 362h0M1417 422h0M1392 362h0M1448 333h0M1430 347h0M1455 364h0M1438 338h0M1422 307h0M1437 251h0M1377 419h0M1486 307h0M1361 404h0M1501 311h0M1412 360h0M1515 305h0M1377 426h0M1444 368h0M1509 301h0M1343 409h0M1492 330h0M1451 340h0M1415 378h0M1490 307h0M1409 401h0M1444 341h0M1362 393h0M1411 397h0M1491 334h0M1521 312h0M1509 302h0M1375 407h0M1416 403h0M1410 406h0M1496 318h0M1477 333h0M1386 424h0M1460 314h0M1345 413h0M1422 396h0M1509 394h0M1406 408h0M1404 368h0M1358 442h0M1374 371h0M1365 442h0M1460 355h0M1363 403h0M1459 328h0M1455 343h0M1501 320h0M1413 358h0M1492 281h0M1377 418h0M1502 306h0M1477 340h0M1396 394h0M1513 313h0M1435 387h0M1399 416h0M1490 379h0M1452 338h0M1400 408h0M1522 276h0M1352 433h0M1515 284h0M1405 367h0M1475 309h0M1421 393h0M1450 329h0M1345 450h0M1356 407h0M1358 430h0M1536 271h0M1556 247h0M1509 318h0M1414 396h0M1451 318h0M1469 316h0M1373 362h0M1387 424h0M1371 390h0M1367 427h0M1411 309h0M1474 348h0M1442 342h0M1406 353h0M1510 321h0M1424 397h0M1464 352h0M1380 377h0M1420 357h0M1381 368h0M1440 375h0M1395 236h0M1418 353h0"/>
<path d="M1434 346h0M1399 366h0M1407 361h0M1501 291h0M1508 309h0M1535 307h0M1444 341h0M1424 408h0M1391 360h0M1426 394h0M1421 307h0M1522 236h0M1510 311h0M1442 327h0M1465 324h0M1382 406h0M1457 329h0M1431 394h0M1378 346h0M1472 319h0M1467 338h0M1392 414h0M1478 337h0M1381 416h0M1441 350h0M1509 284h0M1410 321h0M1374 387h0M1316 399h0M1424 364h0M1358 393h0M1497 316h0M1412 363h0M1434 384h0M1501 310h0M1482 308h0M1506 296h0M1370 336h0M1495 321h0M1497 373h0M1418 398h0M1365 374h0M1438 378h0M1425 394h0M1461 351h0M1499 293h0M1411 360h0M1381 417h0M1376 368h0M1481 330h0M1405 363h0M1438 382h0M1480 324h0M1396 367h0M1494 304h0M1424 398h0M1501 297h0M1409 432h0M1432 381h0M1437 373h0M1466 319h0M1396 423h0M1419 340h0M1520 275h0M1434 341h0M1507 307h0M1441 367h0M1491 331h0M1459 324h0M1476 340h0M1499 310h0M1500 319h0M1418 394h0M1526 301h0M1516 280h0M1384 421h0M1509 306h0M1543 275h0M1459 323h0M1418 383h0M1478 354h0M1432 342h0M1514 292h0M1363 421h0M1366 428h0M1538 255h0M1561 284h0M1490 305h0M1484 325h0M1367 399h0M1366 400h0M1374 379h0M1360 426h0M1421 363h0M1403 409h0M1425 393h0M1443 337h0M1460 327h0M1434 402h0M1377 420h0M1410 405h0M1393 409h0M1368 384h0M1481 311h0M1402 321h0M1406 365h0M1506 290h0M1509 283h0M1418 397h0M1463 321h0M1435 334h0M1449 380h0M1563 236h0M1448 337h0M1385 422h0M1443 364h0M1456 328h0M1453 362h0M1368 427h0M1528 320h0M1415 405h0M1483 306h0M1558 267h0M1449 335h0M1398 418h0M1400 180h0M1385 420h0M1414 399h0M1470 333h0M1361 402h0"/>
<path d="M1399 412h0M1407 397h0M1497 311h0M1428 387h0M1450 330h0M1367 384h0M1473 321h0M1422 355h0M1484 207h0M1446 369h0M1404 368h0M1500 292h0M1509 296h0M1488 310h0M1499 292h0M1442 337h0M1453 348h0M1463 323h0M1412 354h0M1489 343h0M1429 394h0M1467 334h0M1434 361h0M1453 361h0M1400 378h0M1410 298h0M1498 278h0M1469 350h0M1424 387h0M1477 322h0M1432 349h0M1502 297h0M1389 416h0M1380 417h0M1424 371h0M1500 316h0M1357 427h0M1478 329h0M1378 423h0M1386 377h0M1445 338h0M1372 418h0M1376 429h0M1432 347h0M1479 292h0M1431 340h0M1432 381h0M1415 372h0M1457 246h0M1353 411h0M1362 417h0M1373 429h0M1523 269h0M1429 316h0M1517 281h0M1487 331h0M1468 354h0M1448 251h0M1404 358h0M1456 360h0M1411 371h0M1391 372h0M1493 325h0M1436 342h0M1357 427h0M1392 376h0M1408 399h0M1430 390h0M1432 388h0M1357 424h0M1450 331h0M1469 352h0M1384 257h0M1456 360h0M1523 284h0M1397 368h0M1420 398h0M1434 377h0M1601 207h0M1477 305h0M1455 332h0M1452 334h0M1370 375h0M1389 425h0M1475 311h0M1477 318h0M1479 316h0M1457 356h0M1463 350h0M1346 420h0M1492 395h0M1487 333h0M1464 349h0M1435 387h0M1530 277h0M1417 348h0M1417 353h0M1470 320h0M1410 361h0M1435 349h0M1520 279h0M1403 394h0M1407 347h0M1479 344h0M1371 386h0M1407 409h0M1363 400h0M1348 412h0M1496 291h0M1454 331h0M1412 406h0M1436 331h0M1428 339h0M1376 374h0M1513 309h0M1424 395h0M1461 327h0M1471 323h0M1448 365h0M1418 402h0M1467 321h0M1393 299h0M1521 286h0M1369 358h0M1452 352h0M1364 402h0M1509 296h0M1489 308h0M1499 326h0M1414 317h0"/>
<path d="M1354 407h0M1380 414h0M1467 234h0M1504 295h0M1446 353h0M1495 316h0M1505 309h0M1552 268h0M1518 289h0M1484 332h0M1374 374h0M1450 365h0M1438 340h0M1372 389h0M1414 360h0M1518 283h0M1363 397h0M1521 281h0M1366 423h0M1451 351h0M1385 400h0M1356 421h0M1419 354h0M1404 409h0M1377 380h0M1437 374h0M1457 298h0M1377 419h0M1428 380h0M1392 417h0M1440 371h0M1455 341h0M1446 365h0M1368 422h0M1370 435h0M1479 337h0M1447 337h0M1357 407h0M1518 293h0M1436 280h0M1445 353h0M1501 361h0M1492 302h0M1484 304h0M1392 346h0M1445 375h0M1383 418h0M1473 344h0M1476 304h0M1473 354h0M1379 424h0M1453 404h0M1342 421h0M1481 361h0M1431 356h0M1362 272h0M1456 359h0M1413 193h0M1497 318h0M1475 342h0M1353 400h0M1438 338h0M1504 306h0M1442 374h0M1516 283h0M1462 356h0M1405 397h0M1461 342h0M1446 364h0M1431 340h0M1427 348h0M1358 395h0M1442 338h0M1471 362h0M1398 369h0M1487 308h0M1401 360h0M1487 305h0M1460 353h0M1403 314h0M1418 243h0M1429 347h0M1459 361h0M1446 369h0M1407 401h0M1457 322h0M1509 286h0M1475 340h0M1497 304h0M1494 288h0M1376 371h0M1439 369h0M1376 378h0M1462 322h0M1461 354h0M1515 290h0M1494 300h0M1374 381h0M1428 391h0M1360 400h0M1495 322h0M1454 381h0M1512 293h0M1464 348h0M1492 329h0M1373 423h0M1500 319h0M1438 343h0M1373 389h0M1435 347h0M1503 329h0M1426 381h0M1444 341h0M1515 287h0M1435 342h0M1432 351h0M1494 326h0M1345 425h0M1406 409h0M1503 288h0M1482 304h0M1391 359h0M1405 410h0M1516 291h0M1438 375h0M1401 423h0M1498 342h0M1501 323h0M1355 403h0M1433 390h0"/>
<path d="M1401 397h0M1500 311h0M1466 324h0M1437 363h0M1351 400h0M1519 276h0M1470 320h0M1462 343h0M1432 364h0M1315 420h0M1413 350h0M1368 389h0M1389 359h0M1372 400h0M1406 419h0M1411 406h0M1356 412h0M1479 308h0M1484 307h0M1425 402h0M1356 396h0M1366 432h0M1429 386h0M1353 393h0M1391 373h0M1355 406h0M1509 295h0M1459 390h0M1458 358h0M1474 319h0M1405 382h0M1395 333h0M1439 349h0M1482 337h0M1429 186h0M1360 395h0M1360 401h0M1521 289h0M1416 403h0M1451 367h0M1499 291h0M1424 375h0M1471 349h0M1363 425h0M1482 345h0M1499 296h0M1463 324h0M1415 401h0M1367 394h0M1507 302h0M1444 389h0M1372 378h0M1486 330h0M1496 291h0M1426 387h0M1506 306h0M1418 375h0M1503 315h0M1459 359h0M1402 412h0M1477 319h0M1473 343h0M1359 417h0M1442 327h0M1347 396h0M1406 415h0M1511 306h0M1407 311h0M1438 345h0M1372 394h0M1427 358h0M1412 386h0M1409 405h0M1440 337h0M1394 376h0M1377 411h0M1504 311h0M1399 361h0M1363 392h0M1515 282h0M1370 431h0M1350 435h0M1464 327h0M1427 389h0M1516 265h0M1518 321h0M1465 348h0M1414 252h0M1481 339h0M1430 331h0M1464 300h0M1493 329h0M1492 304h0M1366 396h0M1413 354h0M1398 411h0M1356 400h0M1501 307h0M1342 405h0M1374 381h0M1399 413h0M1494 322h0M1375 425h0M1419 350h0M1475 318h0M1504 305h0M1337 418h0M1437 372h0M1394 360h0M1432 387h0M1419 391h0M1370 391h0M1502 314h0M1418 354h0M1490 326h0M1464 314h0M1477 361h0M1347 421h0M1434 338h0M1511 305h0M1373 383h0M1400 367h0M1418 360h0M1514 307h0M1430 403h0M1385 373h0M1436 378h0M1437 334h0M1512 284h0M1439 382h0"/>
<path d="M1408 323h0M1472 384h0M1429 346h0M1388 366h0M1340 420h0M1430 399h0M1377 394h0M1397 356h0M1475 348h0M1465 350h0M1487 343h0M1420 397h0M1424 395h0M1519 289h0M1355 443h0M1498 343h0M1369 425h0M1429 356h0M1473 363h0M1512 302h0M1272 449h0M1440 343h0M1350 416h0M1359 401h0M1378 372h0M1378 357h0M1474 351h0M1433 382h0M1502 319h0M1494 325h0M1441 425h0M1475 335h0M1475 311h0M1363 423h0M1372 373h0M1437 383h0M1475 340h0M1597 378h0M1337 423h0M1371 232h0M1354 414h0M1362 419h0M1367 376h0M1485 341h0M1461 343h0M1462 263h0M1351 410h0M1555 303h0M1523 279h0M1367 422h0M1362 403h0M1451 368h0M1385 416h0M1442 344h0M1376 406h0M1480 338h0M1374 398h0M1397 374h0M1445 341h0M1353 422h0M1372 418h0M1503 294h0M1484 304h0M1472 357h0M1448 335h0M1478 340h0M1435 303h0M1497 293h0M1481 307h0M1427 391h0M1391 374h0M1453 325h0M1390 375h0M1487 328h0M1461 361h0M1422 355h0M1524 266h0M1391 421h0M1519 281h0M1534 292h0M1424 370h0M1510 297h0M1419 360h0M1444 311h0M1406 408h0M1490 298h0M1381 420h0M1395 208h0M1349 416h0M1352 406h0M1434 303h0M1357 426h0M1493 331h0M1480 304h0M1457 353h0M1523 288h0M1348 421h0M1502 290h0M1439 341h0M1497 325h0M1362 424h0M1481 323h0M1441 379h0M1439 377h0M1404 371h0M1439 378h0M1376 410h0M1373 373h0M1469 352h0M1454 363h0M1471 314h0M1418 370h0M1371 440h0M1585 223h0M1355 412h0M1449 330h0M1376 373h0M1412 388h0M1448 327h0M1396 263h0M1368 397h0M1426 388h0M1434 365h0M1467 375h0M1473 317h0M1467 324h0M1355 406h0M1454 361h0M1468 353h0M1470 319h0"/>
<path d="M1484 333h0M1397 410h0M1383 416h0M1490 300h0M1529 305h0M1361 383h0M1432 345h0M1355 414h0M1384 372h0M1533 256h0M1495 305h0M1513 301h0M1480 360h0M1345 417h0M1370 382h0M1463 340h0M1434 386h0M1361 397h0M1480 343h0M1519 283h0M1364 394h0M1446 335h0M1378 417h0M1515 290h0M1474 316h0M1447 372h0M1486 312h0M1378 421h0M1400 413h0M1415 394h0M1429 341h0M1373 423h0M1496 295h0M1413 313h0M1489 354h0M1435 380h0M1436 301h0M1457 324h0M1369 428h0M1462 328h0M1439 370h0M1451 362h0M1497 306h0M1456 361h0M1387 415h0M1363 415h0M1380 367h0M1409 364h0M1400 404h0M1428 388h0M1455 380h0M1358 377h0M1406 411h0M1371 390h0M1368 377h0M1436 361h0M1377 419h0M1378 410h0M1402 377h0M1355 406h0M1368 378h0M1395 374h0M1376 350h0M1516 286h0M1474 310h0M1436 348h0M1355 407h0M1364 432h0M1439 380h0M1438 336h0M1506 293h0M1371 418h0M1424 348h0M1388 376h0M1408 220h0M1405 379h0M1402 362h0M1350 329h0M1299 400h0M1402 409h0M1356 406h0M1423 347h0M1344 415h0M1438 354h0M1502 307h0M1399 396h0M1419 400h0M1425 362h0M1465 347h0M1532 282h0M1372 371h0M1491 301h0M1454 333h0M1368 380h0M1339 411h0M1463 314h0M1457 355h0M1398 411h0M1369 394h0M1417 360h0M1478 343h0M1393 415h0M1392 377h0M1399 367h0M1510 304h0M1437 384h0M1375 393h0M1372 424h0M1376 370h0M1433 388h0M1476 311h0M1355 433h0M1356 405h0M1451 362h0M1417 401h0M1507 306h0M1369 417h0M1508 308h0M1497 295h0M1407 305h0M1446 333h0M1416 274h0M1503 284h0M1472 316h0M1474 313h0M1456 324h0M1409 322h0M1399 364h0M1410 400h0M1409 399h0"/>
<path d="M1507 304h0M1370 420h0M1493 303h0M1363 388h0M1478 312h0M1385 374h0M1440 372h0M1491 331h0M1482 309h0M1471 320h0M1469 318h0M1441 376h0M1496 325h0M1462 333h0M1472 344h0M1367 412h0M1497 325h0M1492 338h0M1403 419h0M1406 363h0M1385 420h0M1515 292h0M1464 320h0M1483 320h0M1388 417h0M1370 383h0M1449 437h0M1503 313h0M1501 324h0M1454 325h0M1422 397h0M1359 360h0M1456 319h0M1459 360h0M1425 397h0M1490 334h0M1512 284h0M1509 284h0M1419 356h0M1432 320h0M1516 289h0M1424 373h0M1463 327h0M1398 370h0M1358 401h0M1412 362h0M1440 336h0M1353 419h0M1484 337h0M1390 375h0M1471 322h0M1369 392h0M1408 365h0M1421 369h0M1494 302h0M1416 399h0M1414 361h0M1393 400h0M1482 306h0M1451 337h0M1416 402h0M1429 387h0M1499 323h0M1427 348h0M1374 371h0M1368 393h0M1376 422h0M1402 413h0M1419 359h0M1499 314h0M1433 382h0M1476 319h0M1513 292h0M1356 433h0M1520 289h0M1449 338h0M1502 293h0M1405 406h0M1401 87h0M1387 420h0M1480 337h0M1408 381h0M1415 360h0M1473 319h0M1357 405h0M1470 352h0M1467 353h0M1383 404h0M1482 343h0M1502 292h0M1439 354h0M1409 362h0M1429 393h0M1484 347h0M1454 281h0M1413 410h0M1549 267h0M1364 426h0M1420 308h0M1359 397h0M1414 363h0M1450 331h0M1500 290h0M1410 408h0M1370 373h0M1491 334h0M1418 393h0M1471 310h0M1386 397h0M1367 362h0M1516 282h0M1529 262h0M1505 302h0M1505 295h0M1482 331h0M1532 270h0M1380 372h0M1449 369h0M1380 401h0M1462 319h0M1421 397h0M1406 404h0M1347 424h0M1403 418h0M1450 364h0M1391 411h0M1486 319h0M1465 321h0M1368 376h0M1460 365h0"/>
<path d="M1507 272h0M1424 372h0M1559 242h0M1440 345h0M1416 358h0M1424 388h0M1405 407h0M1461 357h0M1350 420h0M1477 309h0M1412 362h0M1464 356h0M1398 374h0M1449 353h0M1351 397h0M1422 344h0M1452 360h0M1513 279h0M1425 344h0M1396 380h0M1381 419h0M1449 368h0M1446 337h0M1398 371h0M1491 305h0M1427 348h0M1408 365h0M1358 429h0M1482 284h0M1374 418h0M1442 376h0M1362 404h0M1517 285h0M1470 348h0M1478 356h0M1403 389h0M1416 397h0M1412 374h0M1371 436h0M1373 423h0M1435 359h0M1460 323h0M1412 390h0M1480 339h0M1476 342h0M1438 361h0M1490 306h0M1347 412h0M1521 281h0M1375 374h0M1487 339h0M1329 432h0M1378 380h0M1435 365h0M1561 259h0M1478 309h0M1380 389h0M1317 392h0M1480 342h0M1390 410h0M1494 304h0M1445 375h0M1359 425h0M1445 339h0M1418 350h0M1372 422h0M1367 428h0M1404 401h0M1442 375h0M1440 377h0M1462 325h0M1482 333h0M1507 307h0M1326 323h0M1583 233h0M1361 358h0M1509 287h0M1370 386h0M1447 321h0M1486 300h0M1412 377h0M1388 320h0M1346 415h0M1359 416h0M1486 302h0M1483 309h0M1448 331h0M1367 423h0M1504 312h0M1370 359h0M1484 310h0M1487 317h0M1404 409h0M1509 302h0M1437 378h0M1485 310h0M1359 435h0M1352 421h0M1408 359h0M1455 369h0M1383 420h0M1460 361h0M1356 425h0M1455 321h0M1417 402h0M1506 298h0M1473 320h0M1461 348h0M1363 356h0M1351 443h0M1395 385h0M1449 350h0M1360 422h0M1436 340h0M1437 342h0M1399 408h0M1425 391h0M1368 394h0M1471 347h0M1428 345h0M1374 418h0M1370 366h0M1471 351h0M1354 406h0M1511 283h0M1456 354h0M1443 365h0M1355 405h0M1520 287h0M1424 375h0"/>
<path d="M1496 321h0M1442 328h0M1450 324h0M1462 329h0M1390 395h0M1458 352h0M1417 407h0M1403 361h0M1446 359h0M1455 333h0M1496 295h0M1433 234h0M1482 341h0M1403 381h0M1372 378h0M1366 391h0M1374 440h0M1372 418h0M1443 375h0M1379 416h0M1503 312h0M1459 318h0M1401 418h0M1475 314h0M1336 420h0M1473 316h0M1502 319h0M1384 374h0M1494 323h0M1392 424h0M1358 402h0M1373 394h0M1432 392h0M1396 396h0M1441 374h0M1357 422h0M1438 372h0M1466 314h0M1498 288h0M1363 395h0M1443 375h0M1523 309h0M1513 299h0M1372 404h0M1366 424h0M1423 353h0M1365 330h0M1424 398h0M1480 349h0M1432 380h0M1343 458h0M1306 426h0M1505 303h0M1375 419h0M1402 414h0M1432 386h0M1365 387h0M1464 322h0M1373 424h0M1391 376h0M1506 290h0M1466 356h0M1349 423h0M1501 336h0M1395 373h0M1434 381h0M1433 348h0M1489 305h0M1364 306h0M1516 306h0M1480 310h0M1484 300h0M1357 413h0M1349 427h0M1411 171h0M1304 439h0M1498 291h0M1448 335h0M1476 349h0M1370 385h0M1512 297h0M1393 376h0M1357 406h0M1394 356h0M1554 247h0M1499 309h0M1535 318h0M1467 392h0M1368 383h0M1389 402h0M1398 362h0M1366 421h0M1453 334h0M1367 366h0M1506 300h0M1506 292h0M1456 355h0M1363 409h0M1366 440h0M1371 415h0M1383 369h0M1388 421h0M1347 426h0M1357 432h0M1404 368h0M1460 360h0M1425 415h0M1443 345h0M1434 343h0M1399 380h0M1415 352h0M1508 293h0M1504 336h0M1366 389h0M1436 403h0M1471 311h0M1452 333h0M1357 428h0M1434 363h0M1366 431h0M1369 282h0M1347 382h0M1474 336h0M1437 317h0M1368 396h0M1425 403h0M1473 315h0M1490 317h0M1432 384h0M1408 405h0"/>
<path d="M1514 278h0M1523 285h0M1366 400h0M1379 374h0M1379 237h0M1502 314h0M1498 308h0M1356 405h0M1397 414h0M1518 410h0M1487 341h0M1423 356h0M1487 296h0M1487 307h0M1354 422h0M1436 399h0M1368 389h0M1384 372h0M1376 373h0M1457 318h0M1469 320h0M1501 285h0M1378 420h0M1365 397h0M1497 329h0M1396 370h0M1487 308h0M1450 334h0M1402 361h0M1367 387h0M1519 277h0M1448 335h0M1444 384h0M1461 350h0M1388 379h0M1349 422h0M1405 313h0M1500 336h0M1404 422h0M1365 396h0M1495 323h0M1455 325h0M1395 413h0M1379 378h0M1424 333h0M1559 309h0M1428 398h0M1445 372h0M1372 327h0M1494 294h0M1445 402h0M1507 300h0M1443 412h0M1419 369h0M1466 349h0M1660 230h0M1498 284h0M1395 413h0M1501 385h0M1398 415h0M1400 369h0M1540 267h0M1450 379h0M1504 286h0M1455 331h0M1511 298h0M1396 406h0M1400 338h0M1451 337h0M1397 401h0M1525 326h0M1439 341h0M1384 373h0M1537 268h0M1365 400h0M1431 348h0M1515 293h0M1375 385h0M1438 346h0M1480 342h0M1498 300h0M1455 346h0M1403 405h0M1434 349h0M1534 283h0M1385 372h0M1393 168h0M1519 280h0M1370 408h0M1483 314h0M1447 378h0M1432 383h0M1365 425h0M1359 378h0M1500 325h0M1524 279h0M1354 397h0M1371 409h0M1372 425h0M1441 369h0M1509 284h0M1408 403h0M1547 271h0M1370 425h0M1484 310h0M1394 376h0M1502 314h0M1358 409h0M1455 330h0M1417 358h0M1458 359h0M1456 332h0M1356 405h0M1542 264h0M1372 390h0M1457 383h0M1507 282h0M1490 330h0M1643 260h0M1479 338h0M1412 371h0M1362 379h0M1447 359h0M1388 242h0M1413 383h0M1448 363h0M1410 406h0M1507 275h0M1431 371h0M1438 348h0"/>
<path d="M1452 359h0M1437 338h0M1369 425h0M1471 354h0M1432 384h0M1412 395h0M1372 393h0M1377 379h0M1432 390h0M1412 357h0M1382 378h0M1414 358h0M1511 322h0M1399 405h0M1490 301h0M1457 358h0M1355 422h0M1472 363h0M1466 324h0M1408 323h0M1421 320h0M1449 371h0M1374 414h0M1521 285h0M1490 300h0M1443 342h0M1412 371h0M1494 333h0M1423 395h0M1416 353h0M1436 382h0M1400 345h0M1502 313h0M1519 302h0M1404 410h0M1519 278h0M1509 281h0M1365 397h0M1455 297h0M1366 391h0M1517 279h0M1390 385h0M1507 287h0M1420 328h0M1479 348h0M1486 335h0M1434 385h0M1517 290h0M1495 335h0M1357 407h0M1522 289h0M1431 363h0M1408 393h0M1460 337h0M1394 415h0M1601 266h0M1360 406h0M1399 367h0M1353 404h0M1520 277h0M1475 378h0M1496 328h0M1451 337h0M1496 317h0M1480 315h0M1406 404h0M1536 271h0M1447 363h0M1461 342h0M1407 399h0M1394 411h0M1430 274h0M1350 405h0M1498 297h0M1536 255h0M1376 417h0M1486 340h0M1447 363h0M1486 309h0M1472 348h0M1350 419h0M1359 424h0M1362 392h0M1510 281h0M1393 422h0M1480 314h0M1347 390h0M1527 272h0M1347 362h0M1488 347h0M1381 423h0M1414 393h0M1390 389h0M1467 357h0M1510 285h0M1384 406h0M1430 350h0M1501 293h0M1356 427h0M1452 358h0M1519 280h0M1346 405h0M1486 311h0M1486 338h0M1423 340h0M1436 387h0M1494 319h0M1515 284h0M1415 343h0M1322 395h0M1511 297h0M1475 305h0M1456 324h0M1372 424h0M1647 306h0M1475 313h0M1386 385h0M1379 379h0M1457 328h0M1510 281h0M1643 237h0M1420 348h0M1502 316h0M1360 394h0M1380 422h0M1412 400h0M1346 431h0M1394 418h0M1427 367h0M1471 356h0"/>
<path d="M1475 341h0M1455 333h0M1441 383h0M1505 308h0M1368 383h0M1481 312h0M1506 311h0M1388 414h0M1512 292h0M1475 308h0M1391 411h0M1426 391h0M1505 298h0M1474 342h0M1410 313h0M1441 265h0M1374 376h0M1460 332h0M1472 395h0M1451 326h0M1371 384h0M1407 358h0M1443 370h0M1393 416h0M1418 395h0M1361 380h0M1463 358h0M1414 386h0M1373 386h0M1399 370h0M1454 339h0M1371 423h0M1491 324h0M1494 330h0M1506 312h0M1353 406h0M1362 399h0M1484 340h0M1501 303h0M1363 418h0M1415 345h0M1452 360h0M1436 387h0M1455 328h0M1427 294h0M1372 374h0M1451 363h0M1401 404h0M1543 282h0M1477 340h0M1481 307h0M1354 436h0M1447 336h0M1480 309h0M1508 304h0M1430 392h0M1351 417h0M1418 355h0M1393 409h0M1477 311h0M1371 376h0M1423 355h0M1373 383h0M1499 289h0M1437 374h0M1498 299h0M1462 357h0M1385 375h0M1488 355h0M1511 284h0M1359 396h0M1459 330h0M1519 277h0M1402 406h0M1461 337h0M1413 362h0M1351 413h0M1576 232h0M1468 354h0M1510 291h0M1431 352h0M1408 414h0M1445 388h0M1457 328h0M1352 446h0M1442 369h0M1511 316h0M1458 358h0M1357 407h0M1490 403h0M1482 302h0M1403 416h0M1408 363h0M1344 420h0M1466 319h0M1415 360h0M1454 362h0M1449 337h0M1508 303h0M1491 332h0M1445 335h0M1419 354h0M1417 396h0M1395 372h0M1401 406h0M1406 360h0M1406 304h0M1371 374h0M1507 274h0M1413 386h0M1353 421h0M1490 300h0M1416 427h0M1416 353h0M1459 221h0M1373 389h0M1357 429h0M1412 395h0M1495 295h0M1489 286h0M1523 278h0M1502 322h0M1417 358h0M1462 352h0M1418 339h0M1473 350h0M1430 380h0M1443 316h0M1524 262h0M1415 357h0"/>
<path d="M1429 366h0M1423 361h0M1434 358h0M1449 359h0M1411 380h0M1469 346h0M1497 313h0M1394 409h0M1412 356h0M1445 332h0M1378 375h0M1380 339h0M1423 346h0M1424 356h0M1411 398h0M1444 367h0M1489 331h0M1503 322h0M1479 339h0M1491 307h0M1377 406h0M1414 403h0M1458 323h0M1421 395h0M1490 298h0M1501 300h0M1508 296h0M1506 372h0M1469 354h0M1382 398h0M1410 408h0M1379 417h0M1417 398h0M1504 292h0M1512 288h0M1417 399h0M1347 419h0M1480 313h0M1504 313h0M1424 345h0M1460 354h0M1503 330h0M1491 336h0M1487 333h0M1478 316h0M1410 364h0M1557 262h0M1455 338h0M1508 294h0M1421 409h0M1344 411h0M1416 396h0M1458 326h0M1509 307h0M1436 382h0M1362 400h0M1402 363h0M1359 424h0M1395 370h0M1407 409h0M1404 363h0M1461 319h0M1407 324h0M1402 134h0M1505 276h0M1445 340h0M1412 393h0M1401 407h0M1459 324h0M1491 318h0M1439 347h0M1354 417h0M1404 371h0M1512 297h0M1486 337h0M1395 376h0M1489 319h0M1447 366h0M1445 369h0M1367 390h0M1521 286h0M1478 342h0M1415 365h0M1374 418h0M1511 307h0M1359 401h0M1474 316h0M1462 353h0M1445 364h0M1378 409h0M1457 365h0M1363 430h0M1504 317h0M1558 256h0M1415 355h0M1356 418h0M1410 399h0M1389 410h0M1485 340h0M1391 373h0M1461 343h0M1353 413h0M1509 291h0M1415 359h0M1403 407h0M1442 358h0M1405 368h0M1360 397h0M1437 366h0M1397 434h0M1395 402h0M1436 344h0M1492 312h0M1418 330h0M1427 391h0M1448 336h0M1504 315h0M1436 395h0M1458 358h0M1373 413h0M1379 354h0M1401 367h0M1377 421h0M1398 417h0M1449 333h0M1433 380h0M1394 359h0M1350 405h0M1563 265h0M1495 295h0"/>
<path d="M1385 420h0M1453 367h0M1403 403h0M1358 463h0M1475 310h0M1371 420h0M1490 300h0M1384 380h0M1412 412h0M1472 342h0M1488 338h0M1453 256h0M1519 323h0M1413 363h0M1263 419h0M1452 335h0M1442 342h0M1466 324h0M1396 364h0M1489 325h0M1400 130h0M1397 413h0M1443 373h0M1395 374h0M1458 355h0M1389 422h0M1448 308h0M1338 386h0M1325 426h0M1439 340h0M1382 387h0M1507 311h0M1443 341h0M1491 294h0M1358 394h0M1477 318h0M1511 304h0M1521 276h0M1440 384h0M1422 394h0M1428 360h0M1503 320h0M1441 372h0M1373 424h0M1374 363h0M1357 432h0M1445 344h0M1492 329h0M1488 301h0M1464 335h0M1507 282h0M1307 430h0M1468 359h0M1444 376h0M1363 391h0M1393 403h0M1466 370h0M1490 315h0M1399 405h0M1487 302h0M1451 332h0M1496 320h0M1363 428h0M1444 350h0M1384 376h0M1459 327h0M1431 387h0M1427 348h0M1502 309h0M1439 381h0M1398 371h0M1379 376h0M1405 408h0M1469 324h0M1450 329h0M1543 269h0M1369 429h0M1457 320h0M1531 399h0M1481 312h0M1365 393h0M1426 341h0M1502 299h0M1419 395h0M1423 285h0M1353 408h0M1450 322h0M1489 330h0M1352 414h0M1500 330h0M1420 350h0M1382 418h0M1360 366h0M1428 362h0M1366 395h0M1345 420h0M1504 290h0M1450 342h0M1406 376h0M1452 328h0M1495 326h0M1443 373h0M1368 392h0M1519 292h0M1394 410h0M1437 381h0M1399 397h0M1560 246h0M1497 328h0M1374 426h0M1524 343h0M1512 286h0M1478 342h0M1357 416h0M1444 338h0M1428 343h0M1422 399h0M1409 427h0M1359 431h0M1385 409h0M1408 358h0M1410 410h0M1427 396h0M1500 292h0M1458 362h0M1392 376h0M1481 352h0M1481 311h0M1458 352h0M1506 305h0"/>
</g></g>
<path class="dg" stroke-width="2.1" d="M1232.7 560.8L1718.8 74.5"/>
<path class="tk" d="M1302.1 560.8v-15.5M1302.1 74.5v15.5M1232.7 491.3h15.5M1718.8 491.3h-15.5M1371.6 560.8v-32M1371.6 74.5v32M1232.7 421.9h32M1718.8 421.9h-32M1441.0 560.8v-15.5M1441.0 74.5v15.5M1232.7 352.4h15.5M1718.8 352.4h-15.5M1510.5 560.8v-32M1510.5 74.5v32M1232.7 282.9h32M1718.8 282.9h-32M1579.9 560.8v-15.5M1579.9 74.5v15.5M1232.7 213.4h15.5M1718.8 213.4h-15.5M1649.4 560.8v-32M1649.4 74.5v32M1232.7 144.0h32M1718.8 144.0h-32"/>
<rect class="fr" x="1232.7" y="74.5" width="486.1" height="486.3"/>
<text y="31.3"><tspan x="72.8" letter-spacing="0.5">a)</tspan> <tspan x="116.9" letter-spacing="0.63">Matminer</tspan></text>
<text y="31.3"><tspan x="684.1" letter-spacing="-1.9">b)</tspan> <tspan x="727.9" letter-spacing="1.2">SVM</tspan></text>
<text y="31.3"><tspan x="1202.0">c)</tspan> <tspan x="1244.0" letter-spacing="0.48">MatLearn</tspan></text>
<text x="106.6" y="599.2" text-anchor="middle">-2</text>
<text x="247.1" y="599.2" text-anchor="middle">0</text>
<text x="386.9" y="599.2" text-anchor="middle">2</text>
<text x="526.8" y="599.2" text-anchor="middle">4</text>
<text x="669.0" y="599.2" text-anchor="middle">-2</text>
<text x="809.3" y="599.2" text-anchor="middle">0</text>
<text x="949.5" y="599.2" text-anchor="middle">2</text>
<text x="1089.7" y="599.2" text-anchor="middle">4</text>
<text x="1232.0" y="599.2" text-anchor="middle">-2</text>
<text x="1372.4" y="599.2" text-anchor="middle">0</text>
<text x="1512.8" y="599.2" text-anchor="middle">2</text>
<text x="1653.2" y="599.2" text-anchor="middle">4</text>
<text y="642.3"><tspan x="112.0">DFT</tspan> <tspan x="194.9" letter-spacing="0.3">dist.</tspan> <tspan x="275.0" letter-spacing="0.1">from</tspan> <tspan x="359.4" letter-spacing="0.1">hull</tspan> <tspan x="429.1" letter-spacing="0.41">(eV/atom)</tspan></text>
<text y="642.3"><tspan x="673.6">DFT</tspan> <tspan x="756.5" letter-spacing="0.3">dist.</tspan> <tspan x="836.6" letter-spacing="0.1">from</tspan> <tspan x="921.0" letter-spacing="0.1">hull</tspan> <tspan x="990.7" letter-spacing="0.41">(eV/atom)</tspan></text>
<text y="642.3"><tspan x="1237.1">DFT</tspan> <tspan x="1320.0" letter-spacing="0.3">dist.</tspan> <tspan x="1400.1" letter-spacing="0.1">from</tspan> <tspan x="1484.5" letter-spacing="0.1">hull</tspan> <tspan x="1554.2" letter-spacing="0.41">(eV/atom)</tspan></text>
<text x="97.6" y="563.9" text-anchor="end">-2</text>
<text x="97.6" y="426.9" text-anchor="end">0</text>
<text x="97.6" y="290.2" text-anchor="end">2</text>
<text x="97.6" y="154.0" text-anchor="end">4</text>
<text transform="translate(31.3 564.7) rotate(-90)" y="0"><tspan x="0.0" letter-spacing="0.2">Pred.</tspan> <tspan x="98.5" letter-spacing="0.2">dist.</tspan> <tspan x="177.0" letter-spacing="0.3">from</tspan> <tspan x="263.0" letter-spacing="0.4">hull</tspan> <tspan x="331.3" letter-spacing="0.29">(eV/atom)</tspan></text>
</svg>
</body></html>
